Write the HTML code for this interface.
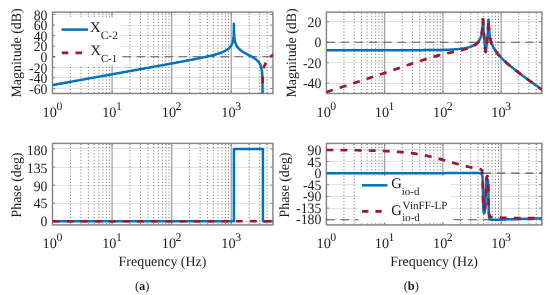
<!DOCTYPE html>
<html><head><meta charset="utf-8"><title>Bode plots</title>
<style>html,body{margin:0;padding:0;background:#fff}body{width:550px;height:295px;overflow:hidden}</style></head>
<body>
<svg width="550" height="295" viewBox="0 0 550 295" style="display:block;text-rendering:geometricPrecision;font-family:'Liberation Serif', serif" fill="#1a1a1a">
<defs>
<clipPath id="cTL"><rect x="52.5" y="12.15" width="220.40" height="81.35"/></clipPath>
<clipPath id="cTR"><rect x="326.4" y="12.15" width="215.50" height="81.35"/></clipPath>
<clipPath id="cBL"><rect x="52.5" y="143.4" width="220.40" height="81.50"/></clipPath>
<clipPath id="cBR"><rect x="326.4" y="143.4" width="215.50" height="81.50"/></clipPath>
</defs>
<rect width="550" height="295" fill="#fff"/>
<rect x="52.5" y="12.15" width="220.40" height="81.35" fill="#fff"/>
<line x1="52.5" x2="272.9" y1="14.50" y2="14.50" stroke="#e2e2e2" stroke-width="1"/>
<line x1="52.5" x2="272.9" y1="25.50" y2="25.50" stroke="#e2e2e2" stroke-width="1"/>
<line x1="52.5" x2="272.9" y1="35.50" y2="35.50" stroke="#e2e2e2" stroke-width="1"/>
<line x1="52.5" x2="272.9" y1="46.50" y2="46.50" stroke="#e2e2e2" stroke-width="1"/>
<line x1="52.5" x2="272.9" y1="56.50" y2="56.50" stroke="#e2e2e2" stroke-width="1"/>
<line x1="52.5" x2="272.9" y1="67.50" y2="67.50" stroke="#e2e2e2" stroke-width="1"/>
<line x1="52.5" x2="272.9" y1="77.50" y2="77.50" stroke="#e2e2e2" stroke-width="1"/>
<line x1="52.5" x2="272.9" y1="88.50" y2="88.50" stroke="#e2e2e2" stroke-width="1"/>
<line x1="70.44" x2="70.44" y1="12.55" y2="93.5" stroke="#707070" stroke-width="1" stroke-dasharray="1 2.19"/>
<line x1="80.93" x2="80.93" y1="12.55" y2="93.5" stroke="#707070" stroke-width="1" stroke-dasharray="1 2.19"/>
<line x1="88.37" x2="88.37" y1="12.55" y2="93.5" stroke="#707070" stroke-width="1" stroke-dasharray="1 2.19"/>
<line x1="94.15" x2="94.15" y1="12.55" y2="93.5" stroke="#707070" stroke-width="1" stroke-dasharray="1 2.19"/>
<line x1="98.87" x2="98.87" y1="12.55" y2="93.5" stroke="#707070" stroke-width="1" stroke-dasharray="1 2.19"/>
<line x1="102.85" x2="102.85" y1="12.55" y2="93.5" stroke="#707070" stroke-width="1" stroke-dasharray="1 2.19"/>
<line x1="106.31" x2="106.31" y1="12.55" y2="93.5" stroke="#707070" stroke-width="1" stroke-dasharray="1 2.19"/>
<line x1="109.36" x2="109.36" y1="12.55" y2="93.5" stroke="#707070" stroke-width="1" stroke-dasharray="1 2.19"/>
<line x1="130.02" x2="130.02" y1="12.55" y2="93.5" stroke="#707070" stroke-width="1" stroke-dasharray="1 2.19"/>
<line x1="140.51" x2="140.51" y1="12.55" y2="93.5" stroke="#707070" stroke-width="1" stroke-dasharray="1 2.19"/>
<line x1="147.96" x2="147.96" y1="12.55" y2="93.5" stroke="#707070" stroke-width="1" stroke-dasharray="1 2.19"/>
<line x1="153.73" x2="153.73" y1="12.55" y2="93.5" stroke="#707070" stroke-width="1" stroke-dasharray="1 2.19"/>
<line x1="158.45" x2="158.45" y1="12.55" y2="93.5" stroke="#707070" stroke-width="1" stroke-dasharray="1 2.19"/>
<line x1="162.44" x2="162.44" y1="12.55" y2="93.5" stroke="#707070" stroke-width="1" stroke-dasharray="1 2.19"/>
<line x1="165.89" x2="165.89" y1="12.55" y2="93.5" stroke="#707070" stroke-width="1" stroke-dasharray="1 2.19"/>
<line x1="168.94" x2="168.94" y1="12.55" y2="93.5" stroke="#707070" stroke-width="1" stroke-dasharray="1 2.19"/>
<line x1="189.60" x2="189.60" y1="12.55" y2="93.5" stroke="#707070" stroke-width="1" stroke-dasharray="1 2.19"/>
<line x1="200.10" x2="200.10" y1="12.55" y2="93.5" stroke="#707070" stroke-width="1" stroke-dasharray="1 2.19"/>
<line x1="207.54" x2="207.54" y1="12.55" y2="93.5" stroke="#707070" stroke-width="1" stroke-dasharray="1 2.19"/>
<line x1="213.32" x2="213.32" y1="12.55" y2="93.5" stroke="#707070" stroke-width="1" stroke-dasharray="1 2.19"/>
<line x1="218.03" x2="218.03" y1="12.55" y2="93.5" stroke="#707070" stroke-width="1" stroke-dasharray="1 2.19"/>
<line x1="222.02" x2="222.02" y1="12.55" y2="93.5" stroke="#707070" stroke-width="1" stroke-dasharray="1 2.19"/>
<line x1="225.48" x2="225.48" y1="12.55" y2="93.5" stroke="#707070" stroke-width="1" stroke-dasharray="1 2.19"/>
<line x1="228.53" x2="228.53" y1="12.55" y2="93.5" stroke="#707070" stroke-width="1" stroke-dasharray="1 2.19"/>
<line x1="249.19" x2="249.19" y1="12.55" y2="93.5" stroke="#707070" stroke-width="1" stroke-dasharray="1 2.19"/>
<line x1="259.68" x2="259.68" y1="12.55" y2="93.5" stroke="#707070" stroke-width="1" stroke-dasharray="1 2.19"/>
<line x1="267.13" x2="267.13" y1="12.55" y2="93.5" stroke="#707070" stroke-width="1" stroke-dasharray="1 2.19"/>
<line x1="112.08" x2="112.08" y1="12.15" y2="93.5" stroke="#a4a4a4" stroke-width="1.3"/>
<line x1="171.67" x2="171.67" y1="12.15" y2="93.5" stroke="#a4a4a4" stroke-width="1.3"/>
<line x1="231.25" x2="231.25" y1="12.15" y2="93.5" stroke="#a4a4a4" stroke-width="1.3"/>
<path d="M52.5 14.47h2.6M272.9 14.47h-2.6" stroke="#848484" stroke-width="1" fill="none"/>
<path d="M52.5 25.04h2.6M272.9 25.04h-2.6" stroke="#848484" stroke-width="1" fill="none"/>
<path d="M52.5 35.61h2.6M272.9 35.61h-2.6" stroke="#848484" stroke-width="1" fill="none"/>
<path d="M52.5 46.18h2.6M272.9 46.18h-2.6" stroke="#848484" stroke-width="1" fill="none"/>
<path d="M52.5 56.75h2.6M272.9 56.75h-2.6" stroke="#848484" stroke-width="1" fill="none"/>
<path d="M52.5 67.32h2.6M272.9 67.32h-2.6" stroke="#848484" stroke-width="1" fill="none"/>
<path d="M52.5 77.89h2.6M272.9 77.89h-2.6" stroke="#848484" stroke-width="1" fill="none"/>
<path d="M52.5 88.46h2.6M272.9 88.46h-2.6" stroke="#848484" stroke-width="1" fill="none"/>
<path d="M52.50 93.5v-2.6M52.50 12.15v2.6" stroke="#848484" stroke-width="0.9" fill="none"/>
<path d="M70.44 93.5v-1.4M70.44 12.15v1.4" stroke="#848484" stroke-width="0.9" fill="none"/>
<path d="M80.93 93.5v-1.4M80.93 12.15v1.4" stroke="#848484" stroke-width="0.9" fill="none"/>
<path d="M88.37 93.5v-1.4M88.37 12.15v1.4" stroke="#848484" stroke-width="0.9" fill="none"/>
<path d="M94.15 93.5v-1.4M94.15 12.15v1.4" stroke="#848484" stroke-width="0.9" fill="none"/>
<path d="M98.87 93.5v-1.4M98.87 12.15v1.4" stroke="#848484" stroke-width="0.9" fill="none"/>
<path d="M102.85 93.5v-1.4M102.85 12.15v1.4" stroke="#848484" stroke-width="0.9" fill="none"/>
<path d="M106.31 93.5v-1.4M106.31 12.15v1.4" stroke="#848484" stroke-width="0.9" fill="none"/>
<path d="M109.36 93.5v-1.4M109.36 12.15v1.4" stroke="#848484" stroke-width="0.9" fill="none"/>
<path d="M112.08 93.5v-2.6M112.08 12.15v2.6" stroke="#848484" stroke-width="0.9" fill="none"/>
<path d="M130.02 93.5v-1.4M130.02 12.15v1.4" stroke="#848484" stroke-width="0.9" fill="none"/>
<path d="M140.51 93.5v-1.4M140.51 12.15v1.4" stroke="#848484" stroke-width="0.9" fill="none"/>
<path d="M147.96 93.5v-1.4M147.96 12.15v1.4" stroke="#848484" stroke-width="0.9" fill="none"/>
<path d="M153.73 93.5v-1.4M153.73 12.15v1.4" stroke="#848484" stroke-width="0.9" fill="none"/>
<path d="M158.45 93.5v-1.4M158.45 12.15v1.4" stroke="#848484" stroke-width="0.9" fill="none"/>
<path d="M162.44 93.5v-1.4M162.44 12.15v1.4" stroke="#848484" stroke-width="0.9" fill="none"/>
<path d="M165.89 93.5v-1.4M165.89 12.15v1.4" stroke="#848484" stroke-width="0.9" fill="none"/>
<path d="M168.94 93.5v-1.4M168.94 12.15v1.4" stroke="#848484" stroke-width="0.9" fill="none"/>
<path d="M171.67 93.5v-2.6M171.67 12.15v2.6" stroke="#848484" stroke-width="0.9" fill="none"/>
<path d="M189.60 93.5v-1.4M189.60 12.15v1.4" stroke="#848484" stroke-width="0.9" fill="none"/>
<path d="M200.10 93.5v-1.4M200.10 12.15v1.4" stroke="#848484" stroke-width="0.9" fill="none"/>
<path d="M207.54 93.5v-1.4M207.54 12.15v1.4" stroke="#848484" stroke-width="0.9" fill="none"/>
<path d="M213.32 93.5v-1.4M213.32 12.15v1.4" stroke="#848484" stroke-width="0.9" fill="none"/>
<path d="M218.03 93.5v-1.4M218.03 12.15v1.4" stroke="#848484" stroke-width="0.9" fill="none"/>
<path d="M222.02 93.5v-1.4M222.02 12.15v1.4" stroke="#848484" stroke-width="0.9" fill="none"/>
<path d="M225.48 93.5v-1.4M225.48 12.15v1.4" stroke="#848484" stroke-width="0.9" fill="none"/>
<path d="M228.53 93.5v-1.4M228.53 12.15v1.4" stroke="#848484" stroke-width="0.9" fill="none"/>
<path d="M231.25 93.5v-2.6M231.25 12.15v2.6" stroke="#848484" stroke-width="0.9" fill="none"/>
<path d="M249.19 93.5v-1.4M249.19 12.15v1.4" stroke="#848484" stroke-width="0.9" fill="none"/>
<path d="M259.68 93.5v-1.4M259.68 12.15v1.4" stroke="#848484" stroke-width="0.9" fill="none"/>
<path d="M267.13 93.5v-1.4M267.13 12.15v1.4" stroke="#848484" stroke-width="0.9" fill="none"/>
<path d="M272.90 93.5v-1.4M272.90 12.15v1.4" stroke="#848484" stroke-width="0.9" fill="none"/>
<rect x="52.5" y="12.15" width="220.40" height="81.35" fill="none" stroke="#848484" stroke-width="1.45"/>
<line x1="52.5" x2="272.9" y1="56.75" y2="56.75" stroke="#5a5a5a" stroke-width="1.1" stroke-dasharray="8.6 5.4"/>
<polyline points="52.50,85.08 54.35,84.74 56.20,84.41 58.06,84.07 59.91,83.74 61.76,83.40 63.61,83.07 65.46,82.73 67.32,82.40 69.17,82.06 71.02,81.73 72.87,81.39 74.73,81.06 76.58,80.72 78.43,80.39 80.28,80.05 82.13,79.72 83.99,79.38 85.84,79.05 87.69,78.71 89.54,78.38 91.39,78.04 93.25,77.70 95.10,77.37 96.95,77.03 98.80,76.70 100.65,76.36 102.51,76.03 104.36,75.69 106.21,75.36 108.06,75.02 109.92,74.69 111.77,74.35 113.62,74.02 115.47,73.68 117.32,73.35 119.18,73.01 121.03,72.68 122.88,72.34 124.73,72.01 126.58,71.67 128.44,71.34 130.29,71.00 132.14,70.67 133.99,70.33 135.84,69.99 137.70,69.66 139.55,69.32 141.40,68.99 143.25,68.65 145.11,68.32 146.96,67.98 148.81,67.65 150.66,67.31 152.51,66.97 154.37,66.64 156.22,66.30 158.07,65.96 159.92,65.63 161.77,65.29 163.63,64.95 165.48,64.61 167.33,64.28 169.18,63.94 171.03,63.60 172.89,63.26 174.74,62.92 176.59,62.58 178.44,62.23 180.29,61.89 182.15,61.54 184.00,61.20 185.85,60.85 187.70,60.50 189.56,60.14 191.41,59.79 193.26,59.43 195.11,59.06 196.96,58.69 198.82,58.32 200.67,57.94 202.52,57.55 204.37,57.15 206.22,56.75 208.08,56.33 209.93,55.89 211.78,55.43 213.63,54.95 215.48,54.44 217.34,53.90 219.19,53.31 221.04,52.65 222.89,51.91 224.75,51.05 226.60,50.01 228.45,48.69 229.14,48.07 229.20,48.02 229.26,47.96 229.32,47.90 229.38,47.84 229.44,47.78 229.50,47.72 229.56,47.66 229.62,47.60 229.68,47.53 229.74,47.47 229.80,47.41 229.85,47.34 229.91,47.27 229.97,47.20 230.03,47.14 230.09,47.07 230.15,46.99 230.21,46.92 230.27,46.85 230.30,46.81 230.33,46.77 230.39,46.70 230.45,46.62 230.51,46.54 230.57,46.46 230.63,46.38 230.69,46.30 230.75,46.21 230.81,46.13 230.87,46.04 230.93,45.95 230.99,45.86 231.05,45.77 231.11,45.67 231.17,45.57 231.23,45.47 231.28,45.37 231.34,45.27 231.40,45.16 231.46,45.05 231.52,44.94 231.58,44.83 231.64,44.71 231.70,44.59 231.76,44.46 231.82,44.34 231.88,44.20 231.94,44.07 232.00,43.93 232.06,43.79 232.12,43.64 232.15,43.55 232.18,43.48 232.24,43.32 232.30,43.16 232.36,42.99 232.42,42.81 232.48,42.62 232.54,42.43 232.60,42.23 232.66,42.02 232.71,41.79 232.77,41.56 232.83,41.32 232.89,41.05 232.95,40.78 233.01,40.48 233.07,40.17 233.13,39.83 233.19,39.47 233.25,39.07 233.31,38.63 233.37,38.15 233.43,37.61 233.44,37.50 233.45,37.38 233.47,37.26 233.48,37.13 233.49,37.00 233.50,36.87 233.51,36.73 233.52,36.59 233.54,36.45 233.55,36.30 233.56,36.14 233.57,35.98 233.58,35.82 233.60,35.64 233.61,35.46 233.62,35.28 233.63,35.08 233.64,34.88 233.66,34.66 233.67,34.44 233.68,34.21 233.69,33.96 233.70,33.70 233.72,33.42 233.73,33.12 233.74,32.81 233.75,32.47 233.76,32.10 233.78,31.70 233.79,31.26 233.80,30.78 233.81,30.24 233.82,29.63 233.83,28.92 233.85,28.08 233.86,27.06 233.87,25.74 233.88,23.88 233.89,23.72 233.91,23.72 233.92,23.72 233.93,23.88 233.94,25.74 233.95,27.06 233.97,28.09 233.98,28.93 233.99,29.63 234.00,30.25 234.01,30.45 234.01,30.79 234.03,31.27 234.04,31.71 234.05,32.11 234.06,32.48 234.07,32.82 234.09,33.14 234.10,33.43 234.11,33.71 234.12,33.98 234.13,34.22 234.14,34.46 234.16,34.68 234.17,34.90 234.18,35.10 234.19,35.30 234.20,35.49 234.22,35.67 234.23,35.84 234.24,36.01 234.25,36.17 234.26,36.33 234.28,36.48 234.29,36.62 234.30,36.77 234.31,36.90 234.32,37.04 234.34,37.17 234.35,37.29 234.36,37.42 234.37,37.54 234.38,37.65 234.44,38.20 234.50,38.68 234.56,39.12 234.62,39.52 234.68,39.89 234.74,40.24 234.80,40.56 234.86,40.86 234.92,41.14 234.98,41.40 235.04,41.65 235.10,41.89 235.16,42.12 235.22,42.33 235.28,42.54 235.34,42.74 235.40,42.93 235.46,43.11 235.52,43.29 235.57,43.46 235.63,43.62 235.69,43.78 235.75,43.94 235.81,44.08 235.86,44.19 235.87,44.23 235.93,44.37 235.99,44.50 236.05,44.64 236.11,44.77 236.17,44.89 236.23,45.01 236.29,45.13 236.35,45.25 236.41,45.36 236.47,45.48 236.53,45.59 236.59,45.69 236.65,45.80 236.71,45.90 236.77,46.00 236.83,46.10 236.89,46.19 236.95,46.29 237.00,46.38 237.06,46.47 237.12,46.56 237.18,46.65 237.24,46.74 237.30,46.82 237.36,46.90 237.42,46.99 237.48,47.07 237.54,47.15 237.60,47.23 237.66,47.30 237.71,47.37 237.72,47.38 237.78,47.45 237.84,47.53 237.90,47.60 237.96,47.67 238.02,47.74 238.08,47.81 238.14,47.88 238.20,47.95 238.26,48.02 238.32,48.09 238.38,48.15 238.43,48.22 238.49,48.28 238.55,48.35 238.61,48.41 238.67,48.47 239.56,49.32 241.41,50.79 243.27,52.01 245.12,53.09 246.97,54.09 248.82,55.06 250.67,56.05 252.53,57.09 254.38,58.25 256.23,59.62 257.75,61.01 257.81,61.07 257.87,61.13 257.93,61.20 257.99,61.26 258.04,61.33 258.08,61.37 258.10,61.39 258.16,61.46 258.22,61.53 258.28,61.60 258.34,61.67 258.40,61.74 258.46,61.81 258.52,61.88 258.58,61.95 258.64,62.03 258.70,62.10 258.76,62.18 258.82,62.25 258.88,62.33 258.94,62.41 259.00,62.49 259.06,62.58 259.12,62.66 259.18,62.74 259.24,62.83 259.30,62.92 259.36,63.01 259.42,63.10 259.47,63.19 259.53,63.29 259.59,63.38 259.65,63.48 259.71,63.58 259.77,63.68 259.83,63.79 259.89,63.89 259.94,63.97 259.95,64.00 260.01,64.11 260.07,64.23 260.13,64.35 260.19,64.47 260.25,64.59 260.31,64.71 260.37,64.84 260.43,64.97 260.49,65.11 260.55,65.25 260.61,65.40 260.67,65.54 260.73,65.70 260.79,65.86 260.85,66.02 260.90,66.19 260.96,66.37 261.02,66.55 261.08,66.74 261.14,66.94 261.20,67.15 261.26,67.36 261.32,67.59 261.38,67.83 261.44,68.08 261.50,68.34 261.56,68.62 261.62,68.92 261.68,69.24 261.74,69.59 261.79,69.88 261.80,69.96 261.86,70.36 261.92,70.80 261.98,71.28 262.04,71.83 262.05,71.94 262.06,72.06 262.07,72.19 262.08,72.31 262.10,72.44 262.11,72.58 262.12,72.71 262.13,72.86 262.14,73.00 262.16,73.15 262.17,73.31 262.18,73.47 262.19,73.64 262.20,73.81 262.22,73.99 262.23,74.18 262.24,74.38 262.25,74.58 262.26,74.80 262.28,75.02 262.29,75.26 262.30,75.50 262.31,75.77 262.32,76.05 262.33,76.34 262.35,76.66 262.36,77.00 262.37,77.37 262.38,77.77 262.39,78.21 262.41,78.69 262.42,79.23 262.43,79.85 262.44,80.55 262.45,81.39 262.47,82.42 262.48,83.74 262.49,85.60 262.50,88.78 262.51,162.45" fill="none" stroke="#0072BD" stroke-width="2.5" stroke-linejoin="round" clip-path="url(#cTL)"/>
<path d="M262.7 83 L262.7 76 C262.7 72 262.9 70 263.3 68.6 L265.6 63.3 C267.2 60 269 57.6 271.4 56 L274 54.6" fill="none" stroke="#A2142F" stroke-width="2.7" stroke-dasharray="6.6 8.3 6 7.3 6 6" clip-path="url(#cTL)"/>
<text x="47.5" y="19.67" text-anchor="end" font-size="14.3" textLength="13.80" lengthAdjust="spacingAndGlyphs">80</text>
<text x="47.5" y="30.24" text-anchor="end" font-size="14.3" textLength="13.80" lengthAdjust="spacingAndGlyphs">60</text>
<text x="47.5" y="40.81" text-anchor="end" font-size="14.3" textLength="13.80" lengthAdjust="spacingAndGlyphs">40</text>
<text x="47.5" y="51.38" text-anchor="end" font-size="14.3" textLength="13.80" lengthAdjust="spacingAndGlyphs">20</text>
<text x="47.5" y="61.95" text-anchor="end" font-size="14.3" textLength="6.90" lengthAdjust="spacingAndGlyphs">0</text>
<text x="47.5" y="72.52" text-anchor="end" font-size="14.3" textLength="18.39" lengthAdjust="spacingAndGlyphs">-20</text>
<text x="47.5" y="83.09" text-anchor="end" font-size="14.3" textLength="18.39" lengthAdjust="spacingAndGlyphs">-40</text>
<text x="47.5" y="93.66" text-anchor="end" font-size="14.3" textLength="18.39" lengthAdjust="spacingAndGlyphs">-60</text>
<text x="42.60" y="117.00" font-size="14.3">10<tspan dx="-0.5" dy="-7.4" font-size="11.8">0</tspan></text>
<text x="102.18" y="117.00" font-size="14.3">10<tspan dx="-0.5" dy="-7.4" font-size="11.8">1</tspan></text>
<text x="161.77" y="117.00" font-size="14.3">10<tspan dx="-0.5" dy="-7.4" font-size="11.8">2</tspan></text>
<text x="221.35" y="117.00" font-size="14.3">10<tspan dx="-0.5" dy="-7.4" font-size="11.8">3</tspan></text>
<rect x="52.5" y="143.4" width="220.40" height="81.50" fill="#fff"/>
<line x1="52.5" x2="272.9" y1="148.50" y2="148.50" stroke="#e2e2e2" stroke-width="1"/>
<line x1="52.5" x2="272.9" y1="167.50" y2="167.50" stroke="#e2e2e2" stroke-width="1"/>
<line x1="52.5" x2="272.9" y1="185.50" y2="185.50" stroke="#e2e2e2" stroke-width="1"/>
<line x1="52.5" x2="272.9" y1="203.50" y2="203.50" stroke="#e2e2e2" stroke-width="1"/>
<line x1="52.5" x2="272.9" y1="221.50" y2="221.50" stroke="#e2e2e2" stroke-width="1"/>
<line x1="70.44" x2="70.44" y1="143.80" y2="224.9" stroke="#707070" stroke-width="1" stroke-dasharray="1 2.19"/>
<line x1="80.93" x2="80.93" y1="143.80" y2="224.9" stroke="#707070" stroke-width="1" stroke-dasharray="1 2.19"/>
<line x1="88.37" x2="88.37" y1="143.80" y2="224.9" stroke="#707070" stroke-width="1" stroke-dasharray="1 2.19"/>
<line x1="94.15" x2="94.15" y1="143.80" y2="224.9" stroke="#707070" stroke-width="1" stroke-dasharray="1 2.19"/>
<line x1="98.87" x2="98.87" y1="143.80" y2="224.9" stroke="#707070" stroke-width="1" stroke-dasharray="1 2.19"/>
<line x1="102.85" x2="102.85" y1="143.80" y2="224.9" stroke="#707070" stroke-width="1" stroke-dasharray="1 2.19"/>
<line x1="106.31" x2="106.31" y1="143.80" y2="224.9" stroke="#707070" stroke-width="1" stroke-dasharray="1 2.19"/>
<line x1="109.36" x2="109.36" y1="143.80" y2="224.9" stroke="#707070" stroke-width="1" stroke-dasharray="1 2.19"/>
<line x1="130.02" x2="130.02" y1="143.80" y2="224.9" stroke="#707070" stroke-width="1" stroke-dasharray="1 2.19"/>
<line x1="140.51" x2="140.51" y1="143.80" y2="224.9" stroke="#707070" stroke-width="1" stroke-dasharray="1 2.19"/>
<line x1="147.96" x2="147.96" y1="143.80" y2="224.9" stroke="#707070" stroke-width="1" stroke-dasharray="1 2.19"/>
<line x1="153.73" x2="153.73" y1="143.80" y2="224.9" stroke="#707070" stroke-width="1" stroke-dasharray="1 2.19"/>
<line x1="158.45" x2="158.45" y1="143.80" y2="224.9" stroke="#707070" stroke-width="1" stroke-dasharray="1 2.19"/>
<line x1="162.44" x2="162.44" y1="143.80" y2="224.9" stroke="#707070" stroke-width="1" stroke-dasharray="1 2.19"/>
<line x1="165.89" x2="165.89" y1="143.80" y2="224.9" stroke="#707070" stroke-width="1" stroke-dasharray="1 2.19"/>
<line x1="168.94" x2="168.94" y1="143.80" y2="224.9" stroke="#707070" stroke-width="1" stroke-dasharray="1 2.19"/>
<line x1="189.60" x2="189.60" y1="143.80" y2="224.9" stroke="#707070" stroke-width="1" stroke-dasharray="1 2.19"/>
<line x1="200.10" x2="200.10" y1="143.80" y2="224.9" stroke="#707070" stroke-width="1" stroke-dasharray="1 2.19"/>
<line x1="207.54" x2="207.54" y1="143.80" y2="224.9" stroke="#707070" stroke-width="1" stroke-dasharray="1 2.19"/>
<line x1="213.32" x2="213.32" y1="143.80" y2="224.9" stroke="#707070" stroke-width="1" stroke-dasharray="1 2.19"/>
<line x1="218.03" x2="218.03" y1="143.80" y2="224.9" stroke="#707070" stroke-width="1" stroke-dasharray="1 2.19"/>
<line x1="222.02" x2="222.02" y1="143.80" y2="224.9" stroke="#707070" stroke-width="1" stroke-dasharray="1 2.19"/>
<line x1="225.48" x2="225.48" y1="143.80" y2="224.9" stroke="#707070" stroke-width="1" stroke-dasharray="1 2.19"/>
<line x1="228.53" x2="228.53" y1="143.80" y2="224.9" stroke="#707070" stroke-width="1" stroke-dasharray="1 2.19"/>
<line x1="249.19" x2="249.19" y1="143.80" y2="224.9" stroke="#707070" stroke-width="1" stroke-dasharray="1 2.19"/>
<line x1="259.68" x2="259.68" y1="143.80" y2="224.9" stroke="#707070" stroke-width="1" stroke-dasharray="1 2.19"/>
<line x1="267.13" x2="267.13" y1="143.80" y2="224.9" stroke="#707070" stroke-width="1" stroke-dasharray="1 2.19"/>
<line x1="112.08" x2="112.08" y1="143.4" y2="224.9" stroke="#a4a4a4" stroke-width="1.3"/>
<line x1="171.67" x2="171.67" y1="143.4" y2="224.9" stroke="#a4a4a4" stroke-width="1.3"/>
<line x1="231.25" x2="231.25" y1="143.4" y2="224.9" stroke="#a4a4a4" stroke-width="1.3"/>
<path d="M52.5 148.93h2.6M272.9 148.93h-2.6" stroke="#848484" stroke-width="1" fill="none"/>
<path d="M52.5 167.01h2.6M272.9 167.01h-2.6" stroke="#848484" stroke-width="1" fill="none"/>
<path d="M52.5 185.09h2.6M272.9 185.09h-2.6" stroke="#848484" stroke-width="1" fill="none"/>
<path d="M52.5 203.17h2.6M272.9 203.17h-2.6" stroke="#848484" stroke-width="1" fill="none"/>
<path d="M52.5 221.25h2.6M272.9 221.25h-2.6" stroke="#848484" stroke-width="1" fill="none"/>
<path d="M52.50 224.9v-2.6M52.50 143.4v2.6" stroke="#848484" stroke-width="0.9" fill="none"/>
<path d="M70.44 224.9v-1.4M70.44 143.4v1.4" stroke="#848484" stroke-width="0.9" fill="none"/>
<path d="M80.93 224.9v-1.4M80.93 143.4v1.4" stroke="#848484" stroke-width="0.9" fill="none"/>
<path d="M88.37 224.9v-1.4M88.37 143.4v1.4" stroke="#848484" stroke-width="0.9" fill="none"/>
<path d="M94.15 224.9v-1.4M94.15 143.4v1.4" stroke="#848484" stroke-width="0.9" fill="none"/>
<path d="M98.87 224.9v-1.4M98.87 143.4v1.4" stroke="#848484" stroke-width="0.9" fill="none"/>
<path d="M102.85 224.9v-1.4M102.85 143.4v1.4" stroke="#848484" stroke-width="0.9" fill="none"/>
<path d="M106.31 224.9v-1.4M106.31 143.4v1.4" stroke="#848484" stroke-width="0.9" fill="none"/>
<path d="M109.36 224.9v-1.4M109.36 143.4v1.4" stroke="#848484" stroke-width="0.9" fill="none"/>
<path d="M112.08 224.9v-2.6M112.08 143.4v2.6" stroke="#848484" stroke-width="0.9" fill="none"/>
<path d="M130.02 224.9v-1.4M130.02 143.4v1.4" stroke="#848484" stroke-width="0.9" fill="none"/>
<path d="M140.51 224.9v-1.4M140.51 143.4v1.4" stroke="#848484" stroke-width="0.9" fill="none"/>
<path d="M147.96 224.9v-1.4M147.96 143.4v1.4" stroke="#848484" stroke-width="0.9" fill="none"/>
<path d="M153.73 224.9v-1.4M153.73 143.4v1.4" stroke="#848484" stroke-width="0.9" fill="none"/>
<path d="M158.45 224.9v-1.4M158.45 143.4v1.4" stroke="#848484" stroke-width="0.9" fill="none"/>
<path d="M162.44 224.9v-1.4M162.44 143.4v1.4" stroke="#848484" stroke-width="0.9" fill="none"/>
<path d="M165.89 224.9v-1.4M165.89 143.4v1.4" stroke="#848484" stroke-width="0.9" fill="none"/>
<path d="M168.94 224.9v-1.4M168.94 143.4v1.4" stroke="#848484" stroke-width="0.9" fill="none"/>
<path d="M171.67 224.9v-2.6M171.67 143.4v2.6" stroke="#848484" stroke-width="0.9" fill="none"/>
<path d="M189.60 224.9v-1.4M189.60 143.4v1.4" stroke="#848484" stroke-width="0.9" fill="none"/>
<path d="M200.10 224.9v-1.4M200.10 143.4v1.4" stroke="#848484" stroke-width="0.9" fill="none"/>
<path d="M207.54 224.9v-1.4M207.54 143.4v1.4" stroke="#848484" stroke-width="0.9" fill="none"/>
<path d="M213.32 224.9v-1.4M213.32 143.4v1.4" stroke="#848484" stroke-width="0.9" fill="none"/>
<path d="M218.03 224.9v-1.4M218.03 143.4v1.4" stroke="#848484" stroke-width="0.9" fill="none"/>
<path d="M222.02 224.9v-1.4M222.02 143.4v1.4" stroke="#848484" stroke-width="0.9" fill="none"/>
<path d="M225.48 224.9v-1.4M225.48 143.4v1.4" stroke="#848484" stroke-width="0.9" fill="none"/>
<path d="M228.53 224.9v-1.4M228.53 143.4v1.4" stroke="#848484" stroke-width="0.9" fill="none"/>
<path d="M231.25 224.9v-2.6M231.25 143.4v2.6" stroke="#848484" stroke-width="0.9" fill="none"/>
<path d="M249.19 224.9v-1.4M249.19 143.4v1.4" stroke="#848484" stroke-width="0.9" fill="none"/>
<path d="M259.68 224.9v-1.4M259.68 143.4v1.4" stroke="#848484" stroke-width="0.9" fill="none"/>
<path d="M267.13 224.9v-1.4M267.13 143.4v1.4" stroke="#848484" stroke-width="0.9" fill="none"/>
<path d="M272.90 224.9v-1.4M272.90 143.4v1.4" stroke="#848484" stroke-width="0.9" fill="none"/>
<rect x="52.5" y="143.4" width="220.40" height="81.50" fill="none" stroke="#848484" stroke-width="1.45"/>
<polyline points="52.50,221.25 54.35,221.25 56.20,221.25 58.06,221.25 59.91,221.25 61.76,221.25 63.61,221.25 65.46,221.25 67.32,221.25 69.17,221.25 71.02,221.25 72.87,221.25 74.73,221.25 76.58,221.25 78.43,221.25 80.28,221.25 82.13,221.25 83.99,221.25 85.84,221.25 87.69,221.25 89.54,221.25 91.39,221.25 93.25,221.25 95.10,221.25 96.95,221.25 98.80,221.25 100.65,221.25 102.51,221.25 104.36,221.25 106.21,221.25 108.06,221.25 109.92,221.25 111.77,221.25 113.62,221.25 115.47,221.25 117.32,221.25 119.18,221.25 121.03,221.25 122.88,221.25 124.73,221.25 126.58,221.25 128.44,221.25 130.29,221.25 132.14,221.25 133.99,221.25 135.84,221.25 137.70,221.25 139.55,221.25 141.40,221.25 143.25,221.25 145.11,221.25 146.96,221.25 148.81,221.25 150.66,221.25 152.51,221.25 154.37,221.25 156.22,221.25 158.07,221.25 159.92,221.25 161.77,221.25 163.63,221.25 165.48,221.25 167.33,221.25 169.18,221.25 171.03,221.25 172.89,221.25 174.74,221.25 176.59,221.25 178.44,221.25 180.29,221.25 182.15,221.25 184.00,221.25 185.85,221.25 187.70,221.25 189.56,221.25 191.41,221.25 193.26,221.25 195.11,221.25 196.96,221.25 198.82,221.25 200.67,221.25 202.52,221.25 204.37,221.25 206.22,221.25 208.08,221.25 209.93,221.25 211.78,221.25 213.63,221.25 215.48,221.25 217.34,221.25 219.19,221.25 221.04,221.25 222.89,221.25 224.75,221.25 226.60,221.25 228.45,221.25 229.14,221.25 229.20,221.25 229.26,221.25 229.32,221.25 229.38,221.25 229.44,221.25 229.50,221.25 229.56,221.25 229.62,221.25 229.68,221.25 229.74,221.25 229.80,221.25 229.85,221.25 229.91,221.25 229.97,221.25 230.03,221.25 230.09,221.25 230.15,221.25 230.21,221.25 230.27,221.25 230.30,221.25 230.33,221.25 230.39,221.25 230.45,221.25 230.51,221.25 230.57,221.25 230.63,221.25 230.69,221.25 230.75,221.25 230.81,221.25 230.87,221.25 230.93,221.25 230.99,221.25 231.05,221.25 231.11,221.25 231.17,221.25 231.23,221.25 231.28,221.25 231.34,221.25 231.40,221.25 231.46,221.25 231.52,221.25 231.58,221.25 231.64,221.25 231.70,221.25 231.76,221.25 231.82,221.25 231.88,221.25 231.94,221.25 232.00,221.25 232.06,221.25 232.12,221.25 232.15,221.25 232.18,221.25 232.24,221.25 232.30,221.25 232.36,221.25 232.42,221.25 232.48,221.25 232.54,221.25 232.60,221.25 232.66,221.25 232.71,221.25 232.77,221.25 232.83,221.25 232.89,221.25 232.95,221.25 233.01,221.25 233.07,221.25 233.13,221.25 233.19,221.25 233.25,221.25 233.31,221.25 233.37,221.25 233.43,221.25 233.44,221.25 233.45,221.25 233.47,221.25 233.48,221.25 233.49,221.25 233.50,221.25 233.51,221.25 233.52,221.25 233.54,221.25 233.55,221.25 233.56,221.25 233.57,221.25 233.58,221.25 233.60,221.25 233.61,221.25 233.62,221.25 233.63,221.25 233.64,221.25 233.66,221.25 233.67,221.25 233.68,221.25 233.69,221.25 233.70,221.25 233.72,221.25 233.73,221.25 233.74,221.25 233.75,221.25 233.76,221.25 233.78,221.25 233.79,221.25 233.80,221.25 233.81,221.25 233.82,221.25 233.83,221.25 233.85,221.25 233.86,221.25 233.87,221.25 233.88,221.25 233.89,221.25 233.91,221.25 233.92,148.93 233.93,148.93 233.94,148.93 233.95,148.93 233.97,148.93 233.98,148.93 233.99,148.93 234.00,148.93 234.01,148.93 234.01,148.93 234.03,148.93 234.04,148.93 234.05,148.93 234.06,148.93 234.07,148.93 234.09,148.93 234.10,148.93 234.11,148.93 234.12,148.93 234.13,148.93 234.14,148.93 234.16,148.93 234.17,148.93 234.18,148.93 234.19,148.93 234.20,148.93 234.22,148.93 234.23,148.93 234.24,148.93 234.25,148.93 234.26,148.93 234.28,148.93 234.29,148.93 234.30,148.93 234.31,148.93 234.32,148.93 234.34,148.93 234.35,148.93 234.36,148.93 234.37,148.93 234.38,148.93 234.44,148.93 234.50,148.93 234.56,148.93 234.62,148.93 234.68,148.93 234.74,148.93 234.80,148.93 234.86,148.93 234.92,148.93 234.98,148.93 235.04,148.93 235.10,148.93 235.16,148.93 235.22,148.93 235.28,148.93 235.34,148.93 235.40,148.93 235.46,148.93 235.52,148.93 235.57,148.93 235.63,148.93 235.69,148.93 235.75,148.93 235.81,148.93 235.86,148.93 235.87,148.93 235.93,148.93 235.99,148.93 236.05,148.93 236.11,148.93 236.17,148.93 236.23,148.93 236.29,148.93 236.35,148.93 236.41,148.93 236.47,148.93 236.53,148.93 236.59,148.93 236.65,148.93 236.71,148.93 236.77,148.93 236.83,148.93 236.89,148.93 236.95,148.93 237.00,148.93 237.06,148.93 237.12,148.93 237.18,148.93 237.24,148.93 237.30,148.93 237.36,148.93 237.42,148.93 237.48,148.93 237.54,148.93 237.60,148.93 237.66,148.93 237.71,148.93 237.72,148.93 237.78,148.93 237.84,148.93 237.90,148.93 237.96,148.93 238.02,148.93 238.08,148.93 238.14,148.93 238.20,148.93 238.26,148.93 238.32,148.93 238.38,148.93 238.43,148.93 238.49,148.93 238.55,148.93 238.61,148.93 238.67,148.93 239.56,148.93 241.41,148.93 243.27,148.93 245.12,148.93 246.97,148.93 248.82,148.93 250.67,148.93 252.53,148.93 254.38,148.93 256.23,148.93 257.75,148.93 257.81,148.93 257.87,148.93 257.93,148.93 257.99,148.93 258.04,148.93 258.08,148.93 258.10,148.93 258.16,148.93 258.22,148.93 258.28,148.93 258.34,148.93 258.40,148.93 258.46,148.93 258.52,148.93 258.58,148.93 258.64,148.93 258.70,148.93 258.76,148.93 258.82,148.93 258.88,148.93 258.94,148.93 259.00,148.93 259.06,148.93 259.12,148.93 259.18,148.93 259.24,148.93 259.30,148.93 259.36,148.93 259.42,148.93 259.47,148.93 259.53,148.93 259.59,148.93 259.65,148.93 259.71,148.93 259.77,148.93 259.83,148.93 259.89,148.93 259.94,148.93 259.95,148.93 260.01,148.93 260.07,148.93 260.13,148.93 260.19,148.93 260.25,148.93 260.31,148.93 260.37,148.93 260.43,148.93 260.49,148.93 260.55,148.93 260.61,148.93 260.67,148.93 260.73,148.93 260.79,148.93 260.85,148.93 260.90,148.93 260.96,148.93 261.02,148.93 261.08,148.93 261.14,148.93 261.20,148.93 261.26,148.93 261.32,148.93 261.38,148.93 261.44,148.93 261.50,148.93 261.56,148.93 261.62,148.93 261.68,148.93 261.74,148.93 261.79,148.93 261.80,148.93 261.86,148.93 261.92,148.93 261.98,148.93 262.04,148.93 262.05,148.93 262.06,148.93 262.07,148.93 262.08,148.93 262.10,148.93 262.11,148.93 262.12,148.93 262.13,148.93 262.14,148.93 262.16,148.93 262.17,148.93 262.18,148.93 262.19,148.93 262.20,148.93 262.22,148.93 262.23,148.93 262.24,148.93 262.25,148.93 262.26,148.93 262.28,148.93 262.29,148.93 262.30,148.93 262.31,148.93 262.32,148.93 262.33,148.93 262.35,148.93 262.36,148.93 262.37,148.93 262.38,148.93 262.39,148.93 262.41,148.93 262.42,148.93 262.43,148.93 262.44,148.93 262.45,148.93 262.47,148.93 262.48,148.93 262.49,148.93 262.50,148.93 262.51,148.93 262.53,148.93 262.54,148.93 262.55,148.93 262.56,148.93 262.57,148.93 262.59,148.93 262.60,148.93 262.61,148.93 262.62,148.93 262.63,148.93 262.64,148.93 262.66,148.93 262.67,148.93 262.68,148.93 262.69,148.93 262.70,148.93 262.72,148.93 262.73,148.93 262.74,148.93 262.75,148.93 262.76,148.93 262.78,148.93 262.79,148.93 262.80,148.93 262.81,148.93 262.82,148.93 262.84,148.93 262.85,148.93 262.86,148.93 262.87,148.93 262.88,148.93 262.89,148.93 262.91,148.93 262.92,148.93 262.93,221.25 262.94,221.25 262.95,221.25 262.97,221.25 262.98,221.25 262.99,221.25 263.05,221.25 263.11,221.25 263.17,221.25 263.23,221.25 263.29,221.25 263.35,221.25 263.41,221.25 263.47,221.25 263.53,221.25 263.59,221.25 263.64,221.25 263.65,221.25 263.71,221.25 263.76,221.25 263.82,221.25 263.88,221.25 263.94,221.25 264.00,221.25 264.06,221.25 264.12,221.25 264.18,221.25 264.24,221.25 264.30,221.25 264.36,221.25 264.42,221.25 264.48,221.25 264.54,221.25 264.60,221.25 264.66,221.25 264.72,221.25 264.78,221.25 264.84,221.25 264.90,221.25 264.96,221.25 265.02,221.25 265.08,221.25 265.14,221.25 265.19,221.25 265.25,221.25 265.31,221.25 265.37,221.25 265.43,221.25 265.49,221.25 265.49,221.25 265.55,221.25 265.61,221.25 265.67,221.25 265.73,221.25 265.79,221.25 265.85,221.25 265.91,221.25 265.97,221.25 266.03,221.25 266.09,221.25 266.15,221.25 266.21,221.25 266.27,221.25 266.33,221.25 266.39,221.25 266.45,221.25 266.51,221.25 266.57,221.25 266.62,221.25 266.68,221.25 266.74,221.25 266.80,221.25 266.86,221.25 266.92,221.25 266.98,221.25 267.04,221.25 267.10,221.25 267.16,221.25 267.22,221.25 267.28,221.25 267.34,221.25 269.20,221.25 271.05,221.25 272.90,221.25" fill="none" stroke="#0072BD" stroke-width="2.5" stroke-linejoin="round" clip-path="url(#cBL)"/>
<polyline points="52.50,221.25 54.35,221.25 56.20,221.25 58.06,221.25 59.91,221.25 61.76,221.25 63.61,221.25 65.46,221.25 67.32,221.25 69.17,221.25 71.02,221.25 72.87,221.25 74.73,221.25 76.58,221.25 78.43,221.25 80.28,221.25 82.13,221.25 83.99,221.25 85.84,221.25 87.69,221.25 89.54,221.25 91.39,221.25 93.25,221.25 95.10,221.25 96.95,221.25 98.80,221.25 100.65,221.25 102.51,221.25 104.36,221.25 106.21,221.25 108.06,221.25 109.92,221.25 111.77,221.25 113.62,221.25 115.47,221.25 117.32,221.25 119.18,221.25 121.03,221.25 122.88,221.25 124.73,221.25 126.58,221.25 128.44,221.25 130.29,221.25 132.14,221.25 133.99,221.25 135.84,221.25 137.70,221.25 139.55,221.25 141.40,221.25 143.25,221.25 145.11,221.25 146.96,221.25 148.81,221.25 150.66,221.25 152.51,221.25 154.37,221.25 156.22,221.25 158.07,221.25 159.92,221.25 161.77,221.25 163.63,221.25 165.48,221.25 167.33,221.25 169.18,221.25 171.03,221.25 172.89,221.25 174.74,221.25 176.59,221.25 178.44,221.25 180.29,221.25 182.15,221.25 184.00,221.25 185.85,221.25 187.70,221.25 189.56,221.25 191.41,221.25 193.26,221.25 195.11,221.25 196.96,221.25 198.82,221.25 200.67,221.25 202.52,221.25 204.37,221.25 206.22,221.25 208.08,221.25 209.93,221.25 211.78,221.25 213.63,221.25 215.48,221.25 217.34,221.25 219.19,221.25 221.04,221.25 222.89,221.25 224.75,221.25 226.60,221.25 228.45,221.25 229.14,221.25 229.20,221.25 229.26,221.25 229.32,221.25 229.38,221.25 229.44,221.25 229.50,221.25 229.56,221.25 229.62,221.25 229.68,221.25 229.74,221.25 229.80,221.25 229.85,221.25 229.91,221.25 229.97,221.25 230.03,221.25 230.09,221.25 230.15,221.25 230.21,221.25 230.27,221.25 230.30,221.25 230.33,221.25 230.39,221.25 230.45,221.25 230.51,221.25 230.57,221.25 230.63,221.25 230.69,221.25 230.75,221.25 230.81,221.25 230.87,221.25 230.93,221.25 230.99,221.25 231.05,221.25 231.11,221.25 231.17,221.25 231.23,221.25 231.28,221.25 231.34,221.25 231.40,221.25 231.46,221.25 231.52,221.25 231.58,221.25 231.64,221.25 231.70,221.25 231.76,221.25 231.82,221.25 231.88,221.25 231.94,221.25 232.00,221.25 232.06,221.25 232.12,221.25 232.15,221.25 232.18,221.25 232.24,221.25 232.30,221.25 232.36,221.25 232.42,221.25 232.48,221.25 232.54,221.25 232.60,221.25 232.66,221.25 232.71,221.25 232.77,221.25 232.83,221.25 232.89,221.25 232.95,221.25 233.01,221.25 233.07,221.25 233.13,221.25 233.19,221.25 233.25,221.25 233.31,221.25 233.37,221.25 233.43,221.25 233.44,221.25 233.45,221.25 233.47,221.25 233.48,221.25 233.49,221.25 233.50,221.25 233.51,221.25 233.52,221.25 233.54,221.25 233.55,221.25 233.56,221.25 233.57,221.25 233.58,221.25 233.60,221.25 233.61,221.25 233.62,221.25 233.63,221.25 233.64,221.25 233.66,221.25 233.67,221.25 233.68,221.25 233.69,221.25 233.70,221.25 233.72,221.25 233.73,221.25 233.74,221.25 233.75,221.25 233.76,221.25 233.78,221.25 233.79,221.25 233.80,221.25 233.81,221.25 233.82,221.25 233.83,221.25 233.85,221.25 233.86,221.25 233.87,221.25 233.88,221.25 233.89,221.25 233.91,221.25 233.92,221.25 233.93,221.25 233.94,221.25 233.95,221.25 233.97,221.25 233.98,221.25 233.99,221.25 234.00,221.25 234.01,221.25 234.01,221.25 234.03,221.25 234.04,221.25 234.05,221.25 234.06,221.25 234.07,221.25 234.09,221.25 234.10,221.25 234.11,221.25 234.12,221.25 234.13,221.25 234.14,221.25 234.16,221.25 234.17,221.25 234.18,221.25 234.19,221.25 234.20,221.25 234.22,221.25 234.23,221.25 234.24,221.25 234.25,221.25 234.26,221.25 234.28,221.25 234.29,221.25 234.30,221.25 234.31,221.25 234.32,221.25 234.34,221.25 234.35,221.25 234.36,221.25 234.37,221.25 234.38,221.25 234.44,221.25 234.50,221.25 234.56,221.25 234.62,221.25 234.68,221.25 234.74,221.25 234.80,221.25 234.86,221.25 234.92,221.25 234.98,221.25 235.04,221.25 235.10,221.25 235.16,221.25 235.22,221.25 235.28,221.25 235.34,221.25 235.40,221.25 235.46,221.25 235.52,221.25 235.57,221.25 235.63,221.25 235.69,221.25 235.75,221.25 235.81,221.25 235.86,221.25 235.87,221.25 235.93,221.25 235.99,221.25 236.05,221.25 236.11,221.25 236.17,221.25 236.23,221.25 236.29,221.25 236.35,221.25 236.41,221.25 236.47,221.25 236.53,221.25 236.59,221.25 236.65,221.25 236.71,221.25 236.77,221.25 236.83,221.25 236.89,221.25 236.95,221.25 237.00,221.25 237.06,221.25 237.12,221.25 237.18,221.25 237.24,221.25 237.30,221.25 237.36,221.25 237.42,221.25 237.48,221.25 237.54,221.25 237.60,221.25 237.66,221.25 237.71,221.25 237.72,221.25 237.78,221.25 237.84,221.25 237.90,221.25 237.96,221.25 238.02,221.25 238.08,221.25 238.14,221.25 238.20,221.25 238.26,221.25 238.32,221.25 238.38,221.25 238.43,221.25 238.49,221.25 238.55,221.25 238.61,221.25 238.67,221.25 239.56,221.25 241.41,221.25 243.27,221.25 245.12,221.25 246.97,221.25 248.82,221.25 250.67,221.25 252.53,221.25 254.38,221.25 256.23,221.25 257.75,221.25 257.81,221.25 257.87,221.25 257.93,221.25 257.99,221.25 258.04,221.25 258.08,221.25 258.10,221.25 258.16,221.25 258.22,221.25 258.28,221.25 258.34,221.25 258.40,221.25 258.46,221.25 258.52,221.25 258.58,221.25 258.64,221.25 258.70,221.25 258.76,221.25 258.82,221.25 258.88,221.25 258.94,221.25 259.00,221.25 259.06,221.25 259.12,221.25 259.18,221.25 259.24,221.25 259.30,221.25 259.36,221.25 259.42,221.25 259.47,221.25 259.53,221.25 259.59,221.25 259.65,221.25 259.71,221.25 259.77,221.25 259.83,221.25 259.89,221.25 259.94,221.25 259.95,221.25 260.01,221.25 260.07,221.25 260.13,221.25 260.19,221.25 260.25,221.25 260.31,221.25 260.37,221.25 260.43,221.25 260.49,221.25 260.55,221.25 260.61,221.25 260.67,221.25 260.73,221.25 260.79,221.25 260.85,221.25 260.90,221.25 260.96,221.25 261.02,221.25 261.08,221.25 261.14,221.25 261.20,221.25 261.26,221.25 261.32,221.25 261.38,221.25 261.44,221.25 261.50,221.25 261.56,221.25 261.62,221.25 261.68,221.25 261.74,221.25 261.79,221.25 261.80,221.25 261.86,221.25 261.92,221.25 261.98,221.25 262.04,221.25 262.05,221.25 262.06,221.25 262.07,221.25 262.08,221.25 262.10,221.25 262.11,221.25 262.12,221.25 262.13,221.25 262.14,221.25 262.16,221.25 262.17,221.25 262.18,221.25 262.19,221.25 262.20,221.25 262.22,221.25 262.23,221.25 262.24,221.25 262.25,221.25 262.26,221.25 262.28,221.25 262.29,221.25 262.30,221.25 262.31,221.25 262.32,221.25 262.33,221.25 262.35,221.25 262.36,221.25 262.37,221.25 262.38,221.25 262.39,221.25 262.41,221.25 262.42,221.25 262.43,221.25 262.44,221.25 262.45,221.25 262.47,221.25 262.48,221.25 262.49,221.25 262.50,221.25 262.51,221.25 262.53,221.25 262.54,221.25 262.55,221.25 262.56,221.25 262.57,221.25 262.59,221.25 262.60,221.25 262.61,221.25 262.62,221.25 262.63,221.25 262.64,221.25 262.66,221.25 262.67,221.25 262.68,221.25 262.69,221.25 262.70,221.25 262.72,221.25 262.73,221.25 262.74,221.25 262.75,221.25 262.76,221.25 262.78,221.25 262.79,221.25 262.80,221.25 262.81,221.25 262.82,221.25 262.84,221.25 262.85,221.25 262.86,221.25 262.87,221.25 262.88,221.25 262.89,221.25 262.91,221.25 262.92,221.25 262.93,221.25 262.94,221.25 262.95,221.25 262.97,221.25 262.98,221.25 262.99,221.25 263.05,221.25 263.11,221.25 263.17,221.25 263.23,221.25 263.29,221.25 263.35,221.25 263.41,221.25 263.47,221.25 263.53,221.25 263.59,221.25 263.64,221.25 263.65,221.25 263.71,221.25 263.76,221.25 263.82,221.25 263.88,221.25 263.94,221.25 264.00,221.25 264.06,221.25 264.12,221.25 264.18,221.25 264.24,221.25 264.30,221.25 264.36,221.25 264.42,221.25 264.48,221.25 264.54,221.25 264.60,221.25 264.66,221.25 264.72,221.25 264.78,221.25 264.84,221.25 264.90,221.25 264.96,221.25 265.02,221.25 265.08,221.25 265.14,221.25 265.19,221.25 265.25,221.25 265.31,221.25 265.37,221.25 265.43,221.25 265.49,221.25 265.49,221.25 265.55,221.25 265.61,221.25 265.67,221.25 265.73,221.25 265.79,221.25 265.85,221.25 265.91,221.25 265.97,221.25 266.03,221.25 266.09,221.25 266.15,221.25 266.21,221.25 266.27,221.25 266.33,221.25 266.39,221.25 266.45,221.25 266.51,221.25 266.57,221.25 266.62,221.25 266.68,221.25 266.74,221.25 266.80,221.25 266.86,221.25 266.92,221.25 266.98,221.25 267.04,221.25 267.10,221.25 267.16,221.25 267.22,221.25 267.28,221.25 267.34,221.25 269.20,221.25 271.05,221.25 272.90,221.25" fill="none" stroke="#A2142F" stroke-width="2.7" stroke-linejoin="round" stroke-dasharray="6.9 7.2" clip-path="url(#cBL)"/>
<text x="47.5" y="154.73" text-anchor="end" font-size="14.3" textLength="20.70" lengthAdjust="spacingAndGlyphs">180</text>
<text x="47.5" y="172.71" text-anchor="end" font-size="14.3" textLength="20.70" lengthAdjust="spacingAndGlyphs">135</text>
<text x="47.5" y="190.59" text-anchor="end" font-size="14.3" textLength="13.80" lengthAdjust="spacingAndGlyphs">90</text>
<text x="47.5" y="208.47" text-anchor="end" font-size="14.3" textLength="13.80" lengthAdjust="spacingAndGlyphs">45</text>
<text x="47.5" y="225.85" text-anchor="end" font-size="14.3" textLength="6.90" lengthAdjust="spacingAndGlyphs">0</text>
<text x="42.60" y="248.40" font-size="14.3">10<tspan dx="-0.5" dy="-7.4" font-size="11.8">0</tspan></text>
<text x="102.18" y="248.40" font-size="14.3">10<tspan dx="-0.5" dy="-7.4" font-size="11.8">1</tspan></text>
<text x="161.77" y="248.40" font-size="14.3">10<tspan dx="-0.5" dy="-7.4" font-size="11.8">2</tspan></text>
<text x="221.35" y="248.40" font-size="14.3">10<tspan dx="-0.5" dy="-7.4" font-size="11.8">3</tspan></text>
<rect x="326.4" y="12.15" width="215.50" height="81.35" fill="#fff"/>
<line x1="326.4" x2="541.9" y1="21.50" y2="21.50" stroke="#e2e2e2" stroke-width="1"/>
<line x1="326.4" x2="541.9" y1="42.50" y2="42.50" stroke="#e2e2e2" stroke-width="1"/>
<line x1="326.4" x2="541.9" y1="62.50" y2="62.50" stroke="#e2e2e2" stroke-width="1"/>
<line x1="326.4" x2="541.9" y1="83.50" y2="83.50" stroke="#e2e2e2" stroke-width="1"/>
<line x1="343.94" x2="343.94" y1="12.55" y2="93.5" stroke="#707070" stroke-width="1" stroke-dasharray="1 2.19"/>
<line x1="354.20" x2="354.20" y1="12.55" y2="93.5" stroke="#707070" stroke-width="1" stroke-dasharray="1 2.19"/>
<line x1="361.48" x2="361.48" y1="12.55" y2="93.5" stroke="#707070" stroke-width="1" stroke-dasharray="1 2.19"/>
<line x1="367.12" x2="367.12" y1="12.55" y2="93.5" stroke="#707070" stroke-width="1" stroke-dasharray="1 2.19"/>
<line x1="371.73" x2="371.73" y1="12.55" y2="93.5" stroke="#707070" stroke-width="1" stroke-dasharray="1 2.19"/>
<line x1="375.63" x2="375.63" y1="12.55" y2="93.5" stroke="#707070" stroke-width="1" stroke-dasharray="1 2.19"/>
<line x1="379.01" x2="379.01" y1="12.55" y2="93.5" stroke="#707070" stroke-width="1" stroke-dasharray="1 2.19"/>
<line x1="381.99" x2="381.99" y1="12.55" y2="93.5" stroke="#707070" stroke-width="1" stroke-dasharray="1 2.19"/>
<line x1="402.20" x2="402.20" y1="12.55" y2="93.5" stroke="#707070" stroke-width="1" stroke-dasharray="1 2.19"/>
<line x1="412.46" x2="412.46" y1="12.55" y2="93.5" stroke="#707070" stroke-width="1" stroke-dasharray="1 2.19"/>
<line x1="419.74" x2="419.74" y1="12.55" y2="93.5" stroke="#707070" stroke-width="1" stroke-dasharray="1 2.19"/>
<line x1="425.38" x2="425.38" y1="12.55" y2="93.5" stroke="#707070" stroke-width="1" stroke-dasharray="1 2.19"/>
<line x1="429.99" x2="429.99" y1="12.55" y2="93.5" stroke="#707070" stroke-width="1" stroke-dasharray="1 2.19"/>
<line x1="433.89" x2="433.89" y1="12.55" y2="93.5" stroke="#707070" stroke-width="1" stroke-dasharray="1 2.19"/>
<line x1="437.27" x2="437.27" y1="12.55" y2="93.5" stroke="#707070" stroke-width="1" stroke-dasharray="1 2.19"/>
<line x1="440.25" x2="440.25" y1="12.55" y2="93.5" stroke="#707070" stroke-width="1" stroke-dasharray="1 2.19"/>
<line x1="460.46" x2="460.46" y1="12.55" y2="93.5" stroke="#707070" stroke-width="1" stroke-dasharray="1 2.19"/>
<line x1="470.72" x2="470.72" y1="12.55" y2="93.5" stroke="#707070" stroke-width="1" stroke-dasharray="1 2.19"/>
<line x1="477.99" x2="477.99" y1="12.55" y2="93.5" stroke="#707070" stroke-width="1" stroke-dasharray="1 2.19"/>
<line x1="483.64" x2="483.64" y1="12.55" y2="93.5" stroke="#707070" stroke-width="1" stroke-dasharray="1 2.19"/>
<line x1="488.25" x2="488.25" y1="12.55" y2="93.5" stroke="#707070" stroke-width="1" stroke-dasharray="1 2.19"/>
<line x1="492.15" x2="492.15" y1="12.55" y2="93.5" stroke="#707070" stroke-width="1" stroke-dasharray="1 2.19"/>
<line x1="495.53" x2="495.53" y1="12.55" y2="93.5" stroke="#707070" stroke-width="1" stroke-dasharray="1 2.19"/>
<line x1="498.51" x2="498.51" y1="12.55" y2="93.5" stroke="#707070" stroke-width="1" stroke-dasharray="1 2.19"/>
<line x1="518.72" x2="518.72" y1="12.55" y2="93.5" stroke="#707070" stroke-width="1" stroke-dasharray="1 2.19"/>
<line x1="528.98" x2="528.98" y1="12.55" y2="93.5" stroke="#707070" stroke-width="1" stroke-dasharray="1 2.19"/>
<line x1="536.25" x2="536.25" y1="12.55" y2="93.5" stroke="#707070" stroke-width="1" stroke-dasharray="1 2.19"/>
<line x1="384.66" x2="384.66" y1="12.15" y2="93.5" stroke="#a4a4a4" stroke-width="1.3"/>
<line x1="442.92" x2="442.92" y1="12.15" y2="93.5" stroke="#a4a4a4" stroke-width="1.3"/>
<line x1="501.18" x2="501.18" y1="12.15" y2="93.5" stroke="#a4a4a4" stroke-width="1.3"/>
<path d="M326.4 21.75h2.6M541.9 21.75h-2.6" stroke="#848484" stroke-width="1" fill="none"/>
<path d="M326.4 42.25h2.6M541.9 42.25h-2.6" stroke="#848484" stroke-width="1" fill="none"/>
<path d="M326.4 62.75h2.6M541.9 62.75h-2.6" stroke="#848484" stroke-width="1" fill="none"/>
<path d="M326.4 83.25h2.6M541.9 83.25h-2.6" stroke="#848484" stroke-width="1" fill="none"/>
<path d="M326.40 93.5v-2.6M326.40 12.15v2.6" stroke="#848484" stroke-width="0.9" fill="none"/>
<path d="M343.94 93.5v-1.4M343.94 12.15v1.4" stroke="#848484" stroke-width="0.9" fill="none"/>
<path d="M354.20 93.5v-1.4M354.20 12.15v1.4" stroke="#848484" stroke-width="0.9" fill="none"/>
<path d="M361.48 93.5v-1.4M361.48 12.15v1.4" stroke="#848484" stroke-width="0.9" fill="none"/>
<path d="M367.12 93.5v-1.4M367.12 12.15v1.4" stroke="#848484" stroke-width="0.9" fill="none"/>
<path d="M371.73 93.5v-1.4M371.73 12.15v1.4" stroke="#848484" stroke-width="0.9" fill="none"/>
<path d="M375.63 93.5v-1.4M375.63 12.15v1.4" stroke="#848484" stroke-width="0.9" fill="none"/>
<path d="M379.01 93.5v-1.4M379.01 12.15v1.4" stroke="#848484" stroke-width="0.9" fill="none"/>
<path d="M381.99 93.5v-1.4M381.99 12.15v1.4" stroke="#848484" stroke-width="0.9" fill="none"/>
<path d="M384.66 93.5v-2.6M384.66 12.15v2.6" stroke="#848484" stroke-width="0.9" fill="none"/>
<path d="M402.20 93.5v-1.4M402.20 12.15v1.4" stroke="#848484" stroke-width="0.9" fill="none"/>
<path d="M412.46 93.5v-1.4M412.46 12.15v1.4" stroke="#848484" stroke-width="0.9" fill="none"/>
<path d="M419.74 93.5v-1.4M419.74 12.15v1.4" stroke="#848484" stroke-width="0.9" fill="none"/>
<path d="M425.38 93.5v-1.4M425.38 12.15v1.4" stroke="#848484" stroke-width="0.9" fill="none"/>
<path d="M429.99 93.5v-1.4M429.99 12.15v1.4" stroke="#848484" stroke-width="0.9" fill="none"/>
<path d="M433.89 93.5v-1.4M433.89 12.15v1.4" stroke="#848484" stroke-width="0.9" fill="none"/>
<path d="M437.27 93.5v-1.4M437.27 12.15v1.4" stroke="#848484" stroke-width="0.9" fill="none"/>
<path d="M440.25 93.5v-1.4M440.25 12.15v1.4" stroke="#848484" stroke-width="0.9" fill="none"/>
<path d="M442.92 93.5v-2.6M442.92 12.15v2.6" stroke="#848484" stroke-width="0.9" fill="none"/>
<path d="M460.46 93.5v-1.4M460.46 12.15v1.4" stroke="#848484" stroke-width="0.9" fill="none"/>
<path d="M470.72 93.5v-1.4M470.72 12.15v1.4" stroke="#848484" stroke-width="0.9" fill="none"/>
<path d="M477.99 93.5v-1.4M477.99 12.15v1.4" stroke="#848484" stroke-width="0.9" fill="none"/>
<path d="M483.64 93.5v-1.4M483.64 12.15v1.4" stroke="#848484" stroke-width="0.9" fill="none"/>
<path d="M488.25 93.5v-1.4M488.25 12.15v1.4" stroke="#848484" stroke-width="0.9" fill="none"/>
<path d="M492.15 93.5v-1.4M492.15 12.15v1.4" stroke="#848484" stroke-width="0.9" fill="none"/>
<path d="M495.53 93.5v-1.4M495.53 12.15v1.4" stroke="#848484" stroke-width="0.9" fill="none"/>
<path d="M498.51 93.5v-1.4M498.51 12.15v1.4" stroke="#848484" stroke-width="0.9" fill="none"/>
<path d="M501.18 93.5v-2.6M501.18 12.15v2.6" stroke="#848484" stroke-width="0.9" fill="none"/>
<path d="M518.72 93.5v-1.4M518.72 12.15v1.4" stroke="#848484" stroke-width="0.9" fill="none"/>
<path d="M528.98 93.5v-1.4M528.98 12.15v1.4" stroke="#848484" stroke-width="0.9" fill="none"/>
<path d="M536.25 93.5v-1.4M536.25 12.15v1.4" stroke="#848484" stroke-width="0.9" fill="none"/>
<path d="M541.90 93.5v-1.4M541.90 12.15v1.4" stroke="#848484" stroke-width="0.9" fill="none"/>
<rect x="326.4" y="12.15" width="215.50" height="81.35" fill="none" stroke="#848484" stroke-width="1.45"/>
<line x1="326.4" x2="541.9" y1="42.25" y2="42.25" stroke="#5a5a5a" stroke-width="1.1" stroke-dasharray="8.5 5.7"/>
<polyline points="326.40,50.19 328.21,50.19 330.02,50.19 331.83,50.19 333.64,50.19 335.45,50.19 337.27,50.19 339.08,50.19 340.89,50.19 342.70,50.19 344.51,50.19 346.32,50.19 348.13,50.19 349.94,50.19 351.75,50.19 353.56,50.19 355.37,50.19 357.19,50.19 359.00,50.19 360.81,50.19 362.62,50.19 364.43,50.19 366.24,50.19 368.05,50.19 369.86,50.19 371.67,50.19 373.48,50.19 375.29,50.19 377.11,50.19 378.92,50.19 380.73,50.19 382.54,50.19 384.35,50.19 386.16,50.19 387.97,50.19 389.78,50.19 391.59,50.19 393.40,50.19 395.22,50.19 397.03,50.19 398.84,50.18 400.65,50.18 402.46,50.18 404.27,50.18 406.08,50.18 407.89,50.17 409.70,50.17 411.51,50.17 413.32,50.16 415.14,50.16 416.95,50.15 418.76,50.15 420.57,50.14 422.38,50.13 424.19,50.12 426.00,50.11 427.81,50.10 429.62,50.08 431.43,50.07 433.24,50.05 435.06,50.02 436.87,50.00 438.68,49.96 440.49,49.93 442.30,49.89 444.11,49.84 445.92,49.78 447.73,49.72 449.54,49.64 451.35,49.55 453.16,49.45 454.98,49.33 456.79,49.19 458.60,49.02 460.41,48.83 462.22,48.59 464.03,48.32 465.84,47.98 467.65,47.58 469.46,47.09 471.27,46.48 473.08,45.71 474.90,44.71 476.71,43.36 478.31,41.67 478.37,41.60 478.43,41.52 478.49,41.45 478.52,41.41 478.55,41.37 478.60,41.29 478.66,41.21 478.72,41.13 478.78,41.04 478.84,40.96 478.90,40.87 478.95,40.79 479.01,40.70 479.07,40.61 479.13,40.51 479.19,40.42 479.25,40.33 479.30,40.23 479.36,40.13 479.42,40.03 479.48,39.92 479.54,39.82 479.59,39.71 479.65,39.60 479.71,39.49 479.77,39.38 479.83,39.26 479.89,39.14 479.94,39.02 480.00,38.90 480.06,38.77 480.12,38.64 480.18,38.51 480.24,38.37 480.29,38.23 480.33,38.14 480.35,38.09 480.41,37.94 480.47,37.79 480.53,37.63 480.59,37.47 480.64,37.31 480.70,37.14 480.76,36.96 480.82,36.79 480.88,36.60 480.93,36.41 480.99,36.21 481.05,36.01 481.07,35.95 481.11,35.80 481.13,35.74 481.17,35.58 481.18,35.52 481.23,35.35 481.24,35.29 481.28,35.12 481.30,35.05 481.34,34.88 481.36,34.81 481.40,34.62 481.42,34.55 481.46,34.36 481.48,34.28 481.52,34.08 481.53,34.00 481.58,33.79 481.59,33.71 481.63,33.49 481.65,33.41 481.69,33.18 481.71,33.09 481.75,32.84 481.77,32.75 481.81,32.49 481.82,32.40 481.87,32.13 481.88,32.02 481.93,31.74 481.94,31.63 481.98,31.33 482.00,31.21 482.04,30.89 482.06,30.77 482.10,30.42 482.12,30.29 482.14,30.09 482.16,29.93 482.17,29.78 482.22,29.39 482.23,29.24 482.27,28.82 482.29,28.66 482.33,28.20 482.35,28.03 482.39,27.53 482.41,27.34 482.45,26.81 482.47,26.60 482.51,26.01 482.52,25.85 482.52,25.79 482.53,25.68 482.54,25.50 482.55,25.33 482.57,25.15 482.58,24.97 482.58,24.90 482.59,24.78 482.60,24.59 482.61,24.40 482.62,24.21 482.64,24.01 482.64,23.94 482.65,23.81 482.66,23.60 482.67,23.40 482.68,23.19 482.69,22.98 482.70,22.90 482.71,22.76 482.72,22.54 482.73,22.32 482.74,22.10 482.75,21.88 482.76,21.80 482.76,21.66 482.78,21.44 482.79,21.22 482.80,21.00 482.81,20.79 482.81,20.72 482.82,20.58 482.83,20.38 482.85,20.18 482.86,19.99 482.87,19.82 482.87,19.76 482.88,19.66 482.89,19.51 482.90,19.38 482.92,19.27 482.93,19.18 482.93,19.15 482.94,19.11 482.95,19.07 482.96,19.05 482.97,19.06 482.99,19.10 482.99,19.11 483.00,19.16 483.01,19.24 483.02,19.35 483.03,19.49 483.04,19.64 483.05,19.70 483.06,19.81 483.07,20.00 483.08,20.21 483.09,20.43 483.10,20.66 483.11,20.74 483.11,20.90 483.13,21.14 483.14,21.40 483.15,21.65 483.16,21.92 483.16,22.01 483.17,22.18 483.18,22.44 483.20,22.71 483.21,22.97 483.22,23.24 483.22,23.33 483.23,23.50 483.24,23.76 483.25,24.02 483.27,24.28 483.28,24.53 483.28,24.62 483.29,24.78 483.30,25.03 483.31,25.27 483.32,25.52 483.34,25.75 483.34,25.84 483.35,25.99 483.36,26.22 483.37,26.45 483.38,26.68 483.39,26.90 483.40,26.98 483.41,27.12 483.42,27.34 483.43,27.56 483.44,27.77 483.46,28.05 483.50,28.78 483.51,29.05 483.56,29.74 483.57,29.99 483.61,30.64 483.63,30.87 483.67,31.49 483.69,31.71 483.73,32.30 483.75,32.51 483.79,33.07 483.81,33.27 483.84,33.77 483.85,33.81 483.86,34.00 483.90,34.48 483.91,34.52 483.92,34.71 483.95,35.05 483.96,35.17 483.96,35.21 483.98,35.39 484.02,35.84 484.02,35.88 484.04,36.06 484.08,36.49 484.08,36.53 484.10,36.70 484.14,37.13 484.14,37.16 484.15,37.33 484.19,37.75 484.20,37.79 484.21,37.95 484.25,38.36 484.26,38.40 484.27,38.56 484.31,38.97 484.31,39.00 484.33,39.16 484.37,39.56 484.37,39.60 484.39,39.76 484.43,40.15 484.43,40.19 484.45,40.35 484.49,40.74 484.49,40.77 484.50,40.93 484.54,41.33 484.55,41.36 484.56,41.52 484.60,41.91 484.61,41.94 484.62,42.10 484.66,42.49 484.66,42.53 484.68,42.69 484.72,43.08 484.72,43.11 484.74,43.27 484.78,43.67 484.78,43.70 484.80,43.86 484.84,44.26 484.84,44.29 484.85,44.45 484.89,44.86 484.90,44.89 484.91,45.05 484.95,45.46 484.95,45.49 484.97,45.65 485.01,46.06 485.01,46.10 485.03,46.26 485.07,46.67 485.07,46.70 485.09,46.87 485.13,47.28 485.13,47.32 485.15,47.48 485.18,47.89 485.19,47.92 485.20,48.09 485.24,48.50 485.25,48.53 485.26,48.69 485.27,48.81 485.29,48.93 485.30,49.05 485.30,49.09 485.30,49.12 485.31,49.16 485.32,49.28 485.33,49.39 485.34,49.51 485.36,49.62 485.36,49.66 485.36,49.69 485.37,49.73 485.38,49.84 485.39,49.95 485.40,50.06 485.41,50.17 485.42,50.20 485.42,50.23 485.43,50.27 485.44,50.37 485.45,50.47 485.46,50.57 485.47,50.66 485.48,50.70 485.48,50.72 485.48,50.76 485.49,50.85 485.51,50.93 485.52,51.02 485.53,51.10 485.53,51.13 485.54,51.15 485.54,51.18 485.55,51.25 485.56,51.32 485.58,51.39 485.59,51.45 485.59,51.47 485.60,51.49 485.60,51.51 485.61,51.56 485.62,51.61 485.63,51.66 485.65,51.70 485.65,51.71 485.65,51.72 485.66,51.74 485.67,51.77 485.68,51.79 485.69,51.82 485.70,51.83 485.71,51.84 485.71,51.84 485.72,51.84 485.73,51.85 485.74,51.85 485.75,51.85 485.76,51.84 485.76,51.84 485.77,51.84 485.77,51.83 485.77,51.83 485.79,51.81 485.80,51.79 485.81,51.76 485.82,51.73 485.83,51.71 485.83,51.70 485.83,51.69 485.84,51.65 485.86,51.60 485.87,51.55 485.88,51.50 485.88,51.48 485.89,51.46 485.89,51.44 485.90,51.38 485.91,51.31 485.93,51.25 485.94,51.17 485.94,51.15 485.95,51.13 485.95,51.10 485.96,51.02 485.97,50.94 485.98,50.86 486.00,50.77 486.00,50.74 486.00,50.71 486.01,50.68 486.02,50.59 486.03,50.50 486.04,50.40 486.05,50.30 486.06,50.27 486.06,50.24 486.07,50.20 486.08,50.10 486.09,50.00 486.10,49.90 486.11,49.80 486.12,49.76 486.12,49.73 486.12,49.69 486.14,49.58 486.15,49.48 486.16,49.37 486.17,49.26 486.17,49.22 486.18,49.19 486.18,49.15 486.19,49.04 486.23,48.66 486.24,48.63 486.25,48.48 486.29,48.10 486.29,48.07 486.31,47.92 486.35,47.53 486.35,47.50 486.37,47.35 486.41,46.97 486.41,46.94 486.43,46.78 486.47,46.40 486.47,46.37 486.49,46.22 486.52,45.85 486.53,45.81 486.54,45.66 486.58,45.29 486.59,45.26 486.60,45.11 486.64,44.74 486.64,44.71 486.66,44.56 486.70,44.19 486.70,44.16 486.72,44.02 486.76,43.65 486.76,43.62 486.78,43.47 486.82,43.11 486.82,43.08 486.83,42.93 486.87,42.57 486.88,42.54 486.89,42.39 486.93,42.03 486.94,42.00 486.95,41.85 486.99,41.49 486.99,41.46 487.01,41.31 487.05,40.95 487.05,40.91 487.07,40.77 487.11,40.40 487.11,40.37 487.13,40.22 487.17,39.84 487.17,39.81 487.18,39.66 487.22,39.28 487.23,39.25 487.24,39.10 487.28,38.71 487.29,38.68 487.30,38.52 487.34,38.13 487.34,38.10 487.36,37.94 487.40,37.54 487.40,37.50 487.42,37.34 487.46,36.93 487.46,36.89 487.48,36.72 487.51,36.30 487.52,36.26 487.53,36.09 487.57,35.65 487.57,35.64 487.58,35.61 487.59,35.43 487.63,34.97 487.63,34.93 487.65,34.74 487.69,34.26 487.71,34.02 487.75,33.52 487.77,33.27 487.81,32.74 487.83,32.47 487.86,31.91 487.88,31.63 487.92,31.03 487.94,30.73 487.98,30.09 488.00,29.77 488.04,29.07 488.05,28.86 488.06,28.72 488.06,28.64 488.07,28.42 488.09,28.20 488.10,27.97 488.11,27.74 488.12,27.59 488.12,27.51 488.13,27.27 488.14,27.02 488.16,26.78 488.17,26.52 488.17,26.36 488.18,26.27 488.19,26.01 488.20,25.74 488.21,25.47 488.23,25.20 488.23,25.02 488.24,24.92 488.25,24.63 488.26,24.35 488.27,24.06 488.28,23.76 488.29,23.58 488.30,23.47 488.31,23.17 488.32,22.87 488.33,22.57 488.34,22.27 488.35,22.08 488.35,21.98 488.37,21.69 488.38,21.40 488.39,21.12 488.40,20.85 488.41,20.69 488.41,20.60 488.42,20.37 488.44,20.15 488.45,19.96 488.46,19.79 488.47,19.70 488.47,19.66 488.48,19.56 488.49,19.49 488.51,19.46 488.52,19.46 488.52,19.48 488.53,19.50 488.54,19.58 488.55,19.69 488.56,19.83 488.58,19.99 488.58,20.11 488.59,20.18 488.60,20.39 488.61,20.62 488.62,20.86 488.63,21.11 488.64,21.27 488.65,21.37 488.66,21.63 488.67,21.90 488.68,22.18 488.69,22.45 488.70,22.62 488.70,22.72 488.72,22.99 488.73,23.26 488.74,23.53 488.75,23.79 488.76,23.96 488.76,24.05 488.77,24.31 488.79,24.56 488.80,24.81 488.81,25.05 488.82,25.20 488.82,25.29 488.83,25.52 488.84,25.75 488.85,25.98 488.87,26.20 488.87,26.34 488.88,26.41 488.89,26.63 488.90,26.83 488.91,27.04 488.92,27.24 488.93,27.36 488.94,27.43 488.95,27.63 488.96,27.82 488.97,28.00 488.99,28.30 489.03,28.88 489.05,29.15 489.09,29.68 489.11,29.92 489.15,30.41 489.17,30.64 489.20,31.09 489.22,31.30 489.26,31.72 489.28,31.92 489.32,32.31 489.34,32.49 489.38,32.86 489.38,32.89 489.40,33.03 489.44,33.37 489.46,33.53 489.50,33.86 489.51,34.01 489.55,34.32 489.57,34.46 489.61,34.75 489.63,34.89 489.67,35.17 489.69,35.30 489.73,35.56 489.75,35.69 489.79,35.94 489.81,36.06 489.85,36.30 489.86,36.41 489.90,36.65 489.92,36.76 489.96,36.98 489.98,37.08 490.02,37.30 490.04,37.40 490.08,37.60 490.10,37.70 490.14,37.90 490.16,38.00 490.19,38.19 490.21,38.28 490.25,38.47 490.27,38.56 490.31,38.74 490.33,38.82 490.37,39.00 490.39,39.08 490.43,39.25 490.49,39.50 490.54,39.74 490.60,39.97 490.66,40.20 490.72,40.42 490.78,40.63 490.84,40.84 490.89,41.05 490.95,41.25 491.01,41.45 491.07,41.64 491.13,41.83 491.19,42.02 491.19,42.04 491.24,42.20 491.30,42.38 491.36,42.55 491.42,42.72 491.48,42.89 491.53,43.06 491.59,43.22 491.65,43.38 491.71,43.54 491.77,43.69 491.83,43.85 491.88,44.00 491.94,44.15 492.00,44.29 492.06,44.44 492.12,44.58 492.18,44.72 492.23,44.86 492.29,45.00 492.35,45.13 492.41,45.26 492.47,45.40 492.53,45.53 492.58,45.66 492.64,45.78 492.70,45.91 492.76,46.03 492.82,46.16 492.87,46.28 492.93,46.40 492.99,46.52 493.01,46.55 493.05,46.64 493.11,46.75 493.17,46.87 494.82,49.76 496.63,52.38 498.44,54.65 500.25,56.69 502.06,58.57 503.87,60.34 505.68,62.01 507.49,63.62 509.30,65.17 511.11,66.68 512.93,68.15 514.74,69.59 516.55,71.00 518.36,72.40 520.17,73.78 521.98,75.14 523.79,76.49 525.60,77.83 527.41,79.16 529.22,80.48 531.03,81.80 532.85,83.11 534.66,84.41 536.47,85.71 538.28,87.01 540.09,88.31 541.90,89.60" fill="none" stroke="#0072BD" stroke-width="2.5" stroke-linejoin="round" clip-path="url(#cTR)"/>
<polyline points="326.40,92.12 328.21,91.53 330.02,90.94 331.83,90.34 333.64,89.75 335.45,89.16 337.27,88.57 339.08,87.97 340.89,87.38 342.70,86.79 344.51,86.19 346.32,85.60 348.13,85.01 349.94,84.42 351.75,83.82 353.56,83.23 355.37,82.64 357.19,82.05 359.00,81.45 360.81,80.86 362.62,80.27 364.43,79.68 366.24,79.08 368.05,78.49 369.86,77.90 371.67,77.30 373.48,76.71 375.29,76.12 377.11,75.53 378.92,74.93 380.73,74.34 382.54,73.75 384.35,73.15 386.16,72.53 387.97,71.89 389.78,71.26 391.59,70.63 393.40,70.00 395.22,69.37 397.03,68.74 398.84,68.11 400.65,67.48 402.46,66.86 404.27,66.24 406.08,65.62 407.89,65.00 409.70,64.38 411.51,63.77 413.32,63.16 415.14,62.55 416.95,61.95 418.76,61.36 420.57,60.77 422.38,60.19 424.19,59.61 426.00,59.04 427.81,58.48 429.62,57.93 431.43,57.40 433.24,56.87 435.06,56.35 436.87,55.85 438.68,55.36 440.49,54.89 442.30,54.43 444.11,53.99 445.92,53.55 447.73,53.14 449.54,52.73 451.35,52.33 453.16,51.95 454.98,51.56 456.79,51.18 458.60,50.80 460.41,50.40 462.22,49.99 464.03,49.55 465.84,49.07 467.65,48.53 469.46,47.93 471.27,47.22 473.08,46.35 474.90,45.28 476.71,43.86 478.31,42.11 478.37,42.03 478.43,41.95 478.49,41.88 478.52,41.84 478.55,41.80 478.60,41.72 478.66,41.63 478.72,41.55 478.78,41.46 478.84,41.38 478.90,41.29 478.95,41.20 479.01,41.11 479.07,41.02 479.13,40.92 479.19,40.83 479.25,40.73 479.30,40.63 479.36,40.53 479.42,40.43 479.48,40.32 479.54,40.22 479.59,40.11 479.65,40.00 479.71,39.88 479.77,39.77 479.83,39.65 479.89,39.53 479.94,39.41 480.00,39.28 480.06,39.15 480.12,39.02 480.18,38.88 480.24,38.75 480.29,38.60 480.33,38.52 480.35,38.46 480.41,38.31 480.47,38.16 480.53,38.00 480.59,37.84 480.64,37.67 480.70,37.50 480.76,37.33 480.82,37.15 480.88,36.96 480.93,36.77 480.99,36.57 481.05,36.36 481.07,36.31 481.11,36.15 481.13,36.09 481.17,35.93 481.18,35.87 481.23,35.70 481.24,35.64 481.28,35.47 481.30,35.40 481.34,35.22 481.36,35.15 481.40,34.97 481.42,34.90 481.46,34.70 481.48,34.63 481.52,34.42 481.53,34.35 481.58,34.13 481.59,34.05 481.63,33.83 481.65,33.75 481.69,33.51 481.71,33.42 481.75,33.18 481.77,33.09 481.81,32.83 481.82,32.73 481.87,32.46 481.88,32.36 481.93,32.07 481.94,31.96 481.98,31.66 482.00,31.54 482.04,31.22 482.06,31.09 482.10,30.75 482.12,30.62 482.14,30.42 482.16,30.25 482.17,30.11 482.22,29.72 482.23,29.57 482.27,29.14 482.29,28.98 482.33,28.52 482.35,28.35 482.39,27.85 482.41,27.66 482.45,27.13 482.47,26.92 482.51,26.33 482.52,26.16 482.52,26.10 482.53,25.99 482.54,25.82 482.55,25.65 482.57,25.47 482.58,25.28 482.58,25.22 482.59,25.10 482.60,24.91 482.61,24.72 482.62,24.52 482.64,24.32 482.64,24.25 482.65,24.12 482.66,23.92 482.67,23.71 482.68,23.50 482.69,23.29 482.70,23.21 482.71,23.07 482.72,22.86 482.73,22.64 482.74,22.42 482.75,22.19 482.76,22.12 482.76,21.97 482.78,21.75 482.79,21.53 482.80,21.31 482.81,21.10 482.81,21.03 482.82,20.89 482.83,20.69 482.85,20.49 482.86,20.30 482.87,20.13 482.87,20.07 482.88,19.97 482.89,19.82 482.90,19.69 482.92,19.58 482.93,19.49 482.93,19.46 482.94,19.42 482.95,19.38 482.96,19.36 482.97,19.37 482.99,19.40 482.99,19.42 483.00,19.46 483.01,19.55 483.02,19.66 483.03,19.79 483.04,19.94 483.05,20.00 483.06,20.12 483.07,20.31 483.08,20.51 483.09,20.73 483.10,20.96 483.11,21.05 483.11,21.20 483.13,21.45 483.14,21.70 483.15,21.96 483.16,22.22 483.16,22.31 483.17,22.48 483.18,22.74 483.20,23.01 483.21,23.27 483.22,23.54 483.22,23.63 483.23,23.80 483.24,24.06 483.25,24.32 483.27,24.57 483.28,24.83 483.28,24.92 483.29,25.08 483.30,25.33 483.31,25.57 483.32,25.81 483.34,26.05 483.34,26.14 483.35,26.29 483.36,26.52 483.37,26.75 483.38,26.98 483.39,27.20 483.40,27.28 483.41,27.42 483.42,27.64 483.43,27.85 483.44,28.06 483.46,28.34 483.50,29.08 483.51,29.34 483.56,30.03 483.57,30.28 483.61,30.93 483.63,31.16 483.67,31.78 483.69,32.00 483.73,32.59 483.75,32.80 483.79,33.36 483.81,33.56 483.84,34.05 483.85,34.09 483.86,34.29 483.90,34.77 483.91,34.81 483.92,34.99 483.95,35.33 483.96,35.46 483.96,35.49 483.98,35.68 484.02,36.12 484.02,36.16 484.04,36.34 484.08,36.77 484.08,36.81 484.10,36.98 484.14,37.41 484.14,37.44 484.15,37.61 484.19,38.03 484.20,38.06 484.21,38.23 484.25,38.64 484.26,38.67 484.27,38.84 484.31,39.24 484.31,39.28 484.33,39.44 484.37,39.84 484.37,39.87 484.39,40.03 484.43,40.43 484.43,40.46 484.45,40.62 484.49,41.01 484.49,41.05 484.50,41.20 484.54,41.60 484.55,41.63 484.56,41.79 484.60,42.18 484.61,42.21 484.62,42.37 484.66,42.76 484.66,42.80 484.68,42.95 484.72,43.35 484.72,43.38 484.74,43.54 484.78,43.94 484.78,43.97 484.80,44.13 484.84,44.53 484.84,44.56 484.85,44.72 484.89,45.12 484.90,45.15 484.91,45.32 484.95,45.72 484.95,45.75 484.97,45.92 485.01,46.32 485.01,46.36 485.03,46.52 485.07,46.93 485.07,46.97 485.09,47.13 485.13,47.54 485.13,47.57 485.15,47.74 485.18,48.15 485.19,48.18 485.20,48.35 485.24,48.75 485.25,48.79 485.26,48.95 485.27,49.07 485.29,49.19 485.30,49.30 485.30,49.35 485.30,49.38 485.31,49.42 485.32,49.54 485.33,49.65 485.34,49.76 485.36,49.88 485.36,49.92 485.36,49.95 485.37,49.99 485.38,50.10 485.39,50.21 485.40,50.31 485.41,50.42 485.42,50.46 485.42,50.49 485.43,50.52 485.44,50.63 485.45,50.72 485.46,50.82 485.47,50.92 485.48,50.95 485.48,50.98 485.48,51.01 485.49,51.10 485.51,51.19 485.52,51.27 485.53,51.35 485.53,51.38 485.54,51.40 485.54,51.43 485.55,51.50 485.56,51.57 485.58,51.64 485.59,51.70 485.59,51.72 485.60,51.74 485.60,51.76 485.61,51.81 485.62,51.86 485.63,51.91 485.65,51.95 485.65,51.96 485.65,51.97 485.66,51.99 485.67,52.02 485.68,52.04 485.69,52.06 485.70,52.08 485.71,52.09 485.71,52.09 485.72,52.09 485.73,52.10 485.74,52.10 485.75,52.10 485.76,52.09 485.76,52.09 485.77,52.09 485.77,52.08 485.77,52.08 485.79,52.06 485.80,52.03 485.81,52.01 485.82,51.97 485.83,51.96 485.83,51.95 485.83,51.94 485.84,51.90 485.86,51.85 485.87,51.80 485.88,51.75 485.88,51.72 485.89,51.71 485.89,51.69 485.90,51.62 485.91,51.56 485.93,51.49 485.94,51.42 485.94,51.39 485.95,51.37 485.95,51.34 485.96,51.26 485.97,51.18 485.98,51.10 486.00,51.01 486.00,50.98 486.00,50.95 486.01,50.92 486.02,50.83 486.03,50.74 486.04,50.64 486.05,50.55 486.06,50.51 486.06,50.48 486.07,50.45 486.08,50.35 486.09,50.24 486.10,50.14 486.11,50.04 486.12,50.00 486.12,49.97 486.12,49.93 486.14,49.82 486.15,49.72 486.16,49.61 486.17,49.50 486.17,49.46 486.18,49.43 486.18,49.39 486.19,49.28 486.23,48.90 486.24,48.87 486.25,48.72 486.29,48.34 486.29,48.31 486.31,48.15 486.35,47.77 486.35,47.74 486.37,47.59 486.41,47.20 486.41,47.17 486.43,47.02 486.47,46.64 486.47,46.61 486.49,46.46 486.52,46.08 486.53,46.05 486.54,45.90 486.58,45.52 486.59,45.49 486.60,45.34 486.64,44.97 486.64,44.94 486.66,44.79 486.70,44.42 486.70,44.39 486.72,44.25 486.76,43.88 486.76,43.85 486.78,43.70 486.82,43.34 486.82,43.31 486.83,43.16 486.87,42.80 486.88,42.77 486.89,42.62 486.93,42.26 486.94,42.23 486.95,42.08 486.99,41.71 486.99,41.68 487.01,41.54 487.05,41.17 487.05,41.14 487.07,40.99 487.11,40.62 487.11,40.59 487.13,40.44 487.17,40.07 487.17,40.04 487.18,39.88 487.22,39.50 487.23,39.47 487.24,39.32 487.28,38.93 487.29,38.90 487.30,38.74 487.34,38.35 487.34,38.32 487.36,38.16 487.40,37.76 487.40,37.72 487.42,37.56 487.46,37.14 487.46,37.11 487.48,36.94 487.51,36.51 487.52,36.48 487.53,36.30 487.57,35.87 487.57,35.86 487.58,35.82 487.59,35.64 487.63,35.18 487.63,35.14 487.65,34.95 487.69,34.47 487.71,34.23 487.75,33.73 487.77,33.48 487.81,32.95 487.83,32.69 487.86,32.12 487.88,31.84 487.92,31.24 487.94,30.94 487.98,30.30 488.00,29.97 488.04,29.28 488.05,29.07 488.06,28.93 488.06,28.85 488.07,28.63 488.09,28.41 488.10,28.18 488.11,27.95 488.12,27.80 488.12,27.71 488.13,27.47 488.14,27.23 488.16,26.98 488.17,26.73 488.17,26.57 488.18,26.47 488.19,26.21 488.20,25.94 488.21,25.67 488.23,25.40 488.23,25.22 488.24,25.12 488.25,24.84 488.26,24.55 488.27,24.26 488.28,23.97 488.29,23.78 488.30,23.67 488.31,23.37 488.32,23.07 488.33,22.78 488.34,22.48 488.35,22.29 488.35,22.18 488.37,21.89 488.38,21.60 488.39,21.32 488.40,21.06 488.41,20.89 488.41,20.80 488.42,20.57 488.44,20.35 488.45,20.16 488.46,19.99 488.47,19.90 488.47,19.86 488.48,19.76 488.49,19.69 488.51,19.66 488.52,19.66 488.52,19.68 488.53,19.70 488.54,19.78 488.55,19.89 488.56,20.03 488.58,20.19 488.58,20.31 488.59,20.38 488.60,20.59 488.61,20.82 488.62,21.06 488.63,21.31 488.64,21.47 488.65,21.57 488.66,21.83 488.67,22.10 488.68,22.37 488.69,22.65 488.70,22.82 488.70,22.92 488.72,23.19 488.73,23.46 488.74,23.73 488.75,23.99 488.76,24.15 488.76,24.25 488.77,24.50 488.79,24.76 488.80,25.00 488.81,25.25 488.82,25.40 488.82,25.48 488.83,25.72 488.84,25.95 488.85,26.17 488.87,26.39 488.87,26.53 488.88,26.61 488.89,26.82 488.90,27.03 488.91,27.23 488.92,27.43 488.93,27.56 488.94,27.63 488.95,27.82 488.96,28.01 488.97,28.19 488.99,28.49 489.03,29.07 489.05,29.34 489.09,29.87 489.11,30.11 489.15,30.60 489.17,30.83 489.20,31.28 489.22,31.49 489.26,31.91 489.28,32.11 489.32,32.50 489.34,32.68 489.38,33.04 489.38,33.08 489.40,33.22 489.44,33.56 489.46,33.72 489.50,34.04 489.51,34.20 489.55,34.50 489.57,34.65 489.61,34.94 489.63,35.07 489.67,35.35 489.69,35.48 489.73,35.74 489.75,35.87 489.79,36.12 489.81,36.24 489.85,36.48 489.86,36.59 489.90,36.83 489.92,36.93 489.96,37.16 489.98,37.26 490.02,37.48 490.04,37.58 490.08,37.78 490.10,37.88 490.14,38.08 490.16,38.17 490.19,38.36 490.21,38.46 490.25,38.64 490.27,38.73 490.31,38.91 490.33,39.00 490.37,39.17 490.39,39.25 490.43,39.42 490.49,39.67 490.54,39.91 490.60,40.14 490.66,40.36 490.72,40.59 490.78,40.80 490.84,41.01 490.89,41.22 490.95,41.42 491.01,41.61 491.07,41.81 491.13,41.99 491.19,42.18 491.19,42.21 491.24,42.36 491.30,42.54 491.36,42.71 491.42,42.88 491.48,43.05 491.53,43.22 491.59,43.38 491.65,43.54 491.71,43.70 491.77,43.85 491.83,44.00 491.88,44.15 491.94,44.30 492.00,44.45 492.06,44.59 492.12,44.73 492.18,44.87 492.23,45.01 492.29,45.15 492.35,45.28 492.41,45.41 492.47,45.54 492.53,45.67 492.58,45.80 492.64,45.93 492.70,46.05 492.76,46.18 492.82,46.30 492.87,46.42 492.93,46.54 492.99,46.66 493.01,46.69 493.05,46.78 493.11,46.89 493.17,47.01 494.82,49.89 496.63,52.49 498.44,54.74 500.25,56.77 502.06,58.64 503.87,60.40 505.68,62.06 507.49,63.66 509.30,65.21 511.11,66.71 512.93,68.18 514.74,69.61 516.55,71.03 518.36,72.42 520.17,73.79 521.98,75.15 523.79,76.50 525.60,77.84 527.41,79.17 529.22,80.49 531.03,81.80 532.85,83.11 534.66,84.42 536.47,85.72 538.28,87.02 540.09,88.31 541.90,89.60" fill="none" stroke="#A2142F" stroke-width="2.7" stroke-linejoin="round" stroke-dasharray="6.9 7.2" clip-path="url(#cTR)"/>
<text x="321.4" y="26.95" text-anchor="end" font-size="14.3" textLength="13.80" lengthAdjust="spacingAndGlyphs">20</text>
<text x="321.4" y="47.45" text-anchor="end" font-size="14.3" textLength="6.90" lengthAdjust="spacingAndGlyphs">0</text>
<text x="321.4" y="67.95" text-anchor="end" font-size="14.3" textLength="18.39" lengthAdjust="spacingAndGlyphs">-20</text>
<text x="321.4" y="88.45" text-anchor="end" font-size="14.3" textLength="18.39" lengthAdjust="spacingAndGlyphs">-40</text>
<text x="316.50" y="117.00" font-size="14.3">10<tspan dx="-0.5" dy="-7.4" font-size="11.8">0</tspan></text>
<text x="374.76" y="117.00" font-size="14.3">10<tspan dx="-0.5" dy="-7.4" font-size="11.8">1</tspan></text>
<text x="433.02" y="117.00" font-size="14.3">10<tspan dx="-0.5" dy="-7.4" font-size="11.8">2</tspan></text>
<text x="491.28" y="117.00" font-size="14.3">10<tspan dx="-0.5" dy="-7.4" font-size="11.8">3</tspan></text>
<rect x="326.4" y="143.4" width="215.50" height="81.50" fill="#fff"/>
<line x1="326.4" x2="541.9" y1="149.50" y2="149.50" stroke="#e2e2e2" stroke-width="1"/>
<line x1="326.4" x2="541.9" y1="161.50" y2="161.50" stroke="#e2e2e2" stroke-width="1"/>
<line x1="326.4" x2="541.9" y1="173.50" y2="173.50" stroke="#e2e2e2" stroke-width="1"/>
<line x1="326.4" x2="541.9" y1="184.50" y2="184.50" stroke="#e2e2e2" stroke-width="1"/>
<line x1="326.4" x2="541.9" y1="196.50" y2="196.50" stroke="#e2e2e2" stroke-width="1"/>
<line x1="326.4" x2="541.9" y1="208.50" y2="208.50" stroke="#e2e2e2" stroke-width="1"/>
<line x1="326.4" x2="541.9" y1="219.50" y2="219.50" stroke="#e2e2e2" stroke-width="1"/>
<line x1="343.94" x2="343.94" y1="143.80" y2="224.9" stroke="#707070" stroke-width="1" stroke-dasharray="1 2.19"/>
<line x1="354.20" x2="354.20" y1="143.80" y2="224.9" stroke="#707070" stroke-width="1" stroke-dasharray="1 2.19"/>
<line x1="361.48" x2="361.48" y1="143.80" y2="224.9" stroke="#707070" stroke-width="1" stroke-dasharray="1 2.19"/>
<line x1="367.12" x2="367.12" y1="143.80" y2="224.9" stroke="#707070" stroke-width="1" stroke-dasharray="1 2.19"/>
<line x1="371.73" x2="371.73" y1="143.80" y2="224.9" stroke="#707070" stroke-width="1" stroke-dasharray="1 2.19"/>
<line x1="375.63" x2="375.63" y1="143.80" y2="224.9" stroke="#707070" stroke-width="1" stroke-dasharray="1 2.19"/>
<line x1="379.01" x2="379.01" y1="143.80" y2="224.9" stroke="#707070" stroke-width="1" stroke-dasharray="1 2.19"/>
<line x1="381.99" x2="381.99" y1="143.80" y2="224.9" stroke="#707070" stroke-width="1" stroke-dasharray="1 2.19"/>
<line x1="402.20" x2="402.20" y1="143.80" y2="224.9" stroke="#707070" stroke-width="1" stroke-dasharray="1 2.19"/>
<line x1="412.46" x2="412.46" y1="143.80" y2="224.9" stroke="#707070" stroke-width="1" stroke-dasharray="1 2.19"/>
<line x1="419.74" x2="419.74" y1="143.80" y2="224.9" stroke="#707070" stroke-width="1" stroke-dasharray="1 2.19"/>
<line x1="425.38" x2="425.38" y1="143.80" y2="224.9" stroke="#707070" stroke-width="1" stroke-dasharray="1 2.19"/>
<line x1="429.99" x2="429.99" y1="143.80" y2="224.9" stroke="#707070" stroke-width="1" stroke-dasharray="1 2.19"/>
<line x1="433.89" x2="433.89" y1="143.80" y2="224.9" stroke="#707070" stroke-width="1" stroke-dasharray="1 2.19"/>
<line x1="437.27" x2="437.27" y1="143.80" y2="224.9" stroke="#707070" stroke-width="1" stroke-dasharray="1 2.19"/>
<line x1="440.25" x2="440.25" y1="143.80" y2="224.9" stroke="#707070" stroke-width="1" stroke-dasharray="1 2.19"/>
<line x1="460.46" x2="460.46" y1="143.80" y2="224.9" stroke="#707070" stroke-width="1" stroke-dasharray="1 2.19"/>
<line x1="470.72" x2="470.72" y1="143.80" y2="224.9" stroke="#707070" stroke-width="1" stroke-dasharray="1 2.19"/>
<line x1="477.99" x2="477.99" y1="143.80" y2="224.9" stroke="#707070" stroke-width="1" stroke-dasharray="1 2.19"/>
<line x1="483.64" x2="483.64" y1="143.80" y2="224.9" stroke="#707070" stroke-width="1" stroke-dasharray="1 2.19"/>
<line x1="488.25" x2="488.25" y1="143.80" y2="224.9" stroke="#707070" stroke-width="1" stroke-dasharray="1 2.19"/>
<line x1="492.15" x2="492.15" y1="143.80" y2="224.9" stroke="#707070" stroke-width="1" stroke-dasharray="1 2.19"/>
<line x1="495.53" x2="495.53" y1="143.80" y2="224.9" stroke="#707070" stroke-width="1" stroke-dasharray="1 2.19"/>
<line x1="498.51" x2="498.51" y1="143.80" y2="224.9" stroke="#707070" stroke-width="1" stroke-dasharray="1 2.19"/>
<line x1="518.72" x2="518.72" y1="143.80" y2="224.9" stroke="#707070" stroke-width="1" stroke-dasharray="1 2.19"/>
<line x1="528.98" x2="528.98" y1="143.80" y2="224.9" stroke="#707070" stroke-width="1" stroke-dasharray="1 2.19"/>
<line x1="536.25" x2="536.25" y1="143.80" y2="224.9" stroke="#707070" stroke-width="1" stroke-dasharray="1 2.19"/>
<line x1="384.66" x2="384.66" y1="143.4" y2="224.9" stroke="#a4a4a4" stroke-width="1.3"/>
<line x1="442.92" x2="442.92" y1="143.4" y2="224.9" stroke="#a4a4a4" stroke-width="1.3"/>
<line x1="501.18" x2="501.18" y1="143.4" y2="224.9" stroke="#a4a4a4" stroke-width="1.3"/>
<path d="M326.4 149.85h2.6M541.9 149.85h-2.6" stroke="#848484" stroke-width="1" fill="none"/>
<path d="M326.4 161.50h2.6M541.9 161.50h-2.6" stroke="#848484" stroke-width="1" fill="none"/>
<path d="M326.4 173.15h2.6M541.9 173.15h-2.6" stroke="#848484" stroke-width="1" fill="none"/>
<path d="M326.4 184.80h2.6M541.9 184.80h-2.6" stroke="#848484" stroke-width="1" fill="none"/>
<path d="M326.4 196.45h2.6M541.9 196.45h-2.6" stroke="#848484" stroke-width="1" fill="none"/>
<path d="M326.4 208.10h2.6M541.9 208.10h-2.6" stroke="#848484" stroke-width="1" fill="none"/>
<path d="M326.4 219.75h2.6M541.9 219.75h-2.6" stroke="#848484" stroke-width="1" fill="none"/>
<path d="M326.40 224.9v-2.6M326.40 143.4v2.6" stroke="#848484" stroke-width="0.9" fill="none"/>
<path d="M343.94 224.9v-1.4M343.94 143.4v1.4" stroke="#848484" stroke-width="0.9" fill="none"/>
<path d="M354.20 224.9v-1.4M354.20 143.4v1.4" stroke="#848484" stroke-width="0.9" fill="none"/>
<path d="M361.48 224.9v-1.4M361.48 143.4v1.4" stroke="#848484" stroke-width="0.9" fill="none"/>
<path d="M367.12 224.9v-1.4M367.12 143.4v1.4" stroke="#848484" stroke-width="0.9" fill="none"/>
<path d="M371.73 224.9v-1.4M371.73 143.4v1.4" stroke="#848484" stroke-width="0.9" fill="none"/>
<path d="M375.63 224.9v-1.4M375.63 143.4v1.4" stroke="#848484" stroke-width="0.9" fill="none"/>
<path d="M379.01 224.9v-1.4M379.01 143.4v1.4" stroke="#848484" stroke-width="0.9" fill="none"/>
<path d="M381.99 224.9v-1.4M381.99 143.4v1.4" stroke="#848484" stroke-width="0.9" fill="none"/>
<path d="M384.66 224.9v-2.6M384.66 143.4v2.6" stroke="#848484" stroke-width="0.9" fill="none"/>
<path d="M402.20 224.9v-1.4M402.20 143.4v1.4" stroke="#848484" stroke-width="0.9" fill="none"/>
<path d="M412.46 224.9v-1.4M412.46 143.4v1.4" stroke="#848484" stroke-width="0.9" fill="none"/>
<path d="M419.74 224.9v-1.4M419.74 143.4v1.4" stroke="#848484" stroke-width="0.9" fill="none"/>
<path d="M425.38 224.9v-1.4M425.38 143.4v1.4" stroke="#848484" stroke-width="0.9" fill="none"/>
<path d="M429.99 224.9v-1.4M429.99 143.4v1.4" stroke="#848484" stroke-width="0.9" fill="none"/>
<path d="M433.89 224.9v-1.4M433.89 143.4v1.4" stroke="#848484" stroke-width="0.9" fill="none"/>
<path d="M437.27 224.9v-1.4M437.27 143.4v1.4" stroke="#848484" stroke-width="0.9" fill="none"/>
<path d="M440.25 224.9v-1.4M440.25 143.4v1.4" stroke="#848484" stroke-width="0.9" fill="none"/>
<path d="M442.92 224.9v-2.6M442.92 143.4v2.6" stroke="#848484" stroke-width="0.9" fill="none"/>
<path d="M460.46 224.9v-1.4M460.46 143.4v1.4" stroke="#848484" stroke-width="0.9" fill="none"/>
<path d="M470.72 224.9v-1.4M470.72 143.4v1.4" stroke="#848484" stroke-width="0.9" fill="none"/>
<path d="M477.99 224.9v-1.4M477.99 143.4v1.4" stroke="#848484" stroke-width="0.9" fill="none"/>
<path d="M483.64 224.9v-1.4M483.64 143.4v1.4" stroke="#848484" stroke-width="0.9" fill="none"/>
<path d="M488.25 224.9v-1.4M488.25 143.4v1.4" stroke="#848484" stroke-width="0.9" fill="none"/>
<path d="M492.15 224.9v-1.4M492.15 143.4v1.4" stroke="#848484" stroke-width="0.9" fill="none"/>
<path d="M495.53 224.9v-1.4M495.53 143.4v1.4" stroke="#848484" stroke-width="0.9" fill="none"/>
<path d="M498.51 224.9v-1.4M498.51 143.4v1.4" stroke="#848484" stroke-width="0.9" fill="none"/>
<path d="M501.18 224.9v-2.6M501.18 143.4v2.6" stroke="#848484" stroke-width="0.9" fill="none"/>
<path d="M518.72 224.9v-1.4M518.72 143.4v1.4" stroke="#848484" stroke-width="0.9" fill="none"/>
<path d="M528.98 224.9v-1.4M528.98 143.4v1.4" stroke="#848484" stroke-width="0.9" fill="none"/>
<path d="M536.25 224.9v-1.4M536.25 143.4v1.4" stroke="#848484" stroke-width="0.9" fill="none"/>
<path d="M541.90 224.9v-1.4M541.90 143.4v1.4" stroke="#848484" stroke-width="0.9" fill="none"/>
<rect x="326.4" y="143.4" width="215.50" height="81.50" fill="none" stroke="#848484" stroke-width="1.45"/>
<line x1="326.4" x2="541.9" y1="173.15" y2="173.15" stroke="#5a5a5a" stroke-width="1.1" stroke-dasharray="8.5 5.7"/>
<line x1="326.4" x2="541.9" y1="219.75" y2="219.75" stroke="#5a5a5a" stroke-width="1.1" stroke-dasharray="8.5 5.7"/>
<polyline points="326.40,173.15 328.21,173.15 330.02,173.15 331.83,173.15 333.64,173.15 335.45,173.15 337.27,173.15 339.08,173.15 340.89,173.15 342.70,173.15 344.51,173.15 346.32,173.15 348.13,173.15 349.94,173.15 351.75,173.15 353.56,173.15 355.37,173.15 357.19,173.15 359.00,173.15 360.81,173.15 362.62,173.15 364.43,173.15 366.24,173.15 368.05,173.15 369.86,173.15 371.67,173.15 373.48,173.15 375.29,173.15 377.11,173.15 378.92,173.15 380.73,173.15 382.54,173.15 384.35,173.15 386.16,173.15 387.97,173.15 389.78,173.15 391.59,173.15 393.40,173.15 395.22,173.15 397.03,173.15 398.84,173.15 400.65,173.15 402.46,173.15 404.27,173.15 406.08,173.14 407.89,173.14 409.70,173.14 411.51,173.14 413.32,173.14 415.14,173.14 416.95,173.14 418.76,173.14 420.57,173.14 422.38,173.14 424.19,173.14 426.00,173.14 427.81,173.14 429.62,173.14 431.43,173.14 433.24,173.13 435.06,173.13 436.87,173.13 438.68,173.13 440.49,173.13 442.30,173.13 444.11,173.13 445.92,173.12 447.73,173.12 449.54,173.12 451.35,173.12 453.16,173.11 454.98,173.11 456.79,173.11 458.60,173.10 460.41,173.10 462.22,173.10 464.03,173.09 465.84,173.09 467.65,173.08 469.46,173.07 471.27,173.07 473.08,173.06 474.90,173.06 476.71,173.06 478.31,173.09 478.37,173.09 478.43,173.10 478.49,173.10 478.52,173.10 478.55,173.10 478.60,173.10 478.66,173.11 478.72,173.11 478.78,173.11 478.84,173.12 478.90,173.12 478.95,173.12 479.01,173.13 479.07,173.13 479.13,173.13 479.19,173.14 479.25,173.14 479.30,173.15 479.36,173.15 479.42,173.16 479.48,173.17 479.54,173.17 479.59,173.18 479.65,173.18 479.71,173.19 479.77,173.20 479.83,173.21 479.89,173.22 479.94,173.22 480.00,173.23 480.06,173.24 480.12,173.26 480.18,173.27 480.24,173.28 480.29,173.29 480.33,173.30 480.35,173.31 480.41,173.32 480.47,173.34 480.53,173.35 480.59,173.37 480.64,173.39 480.70,173.41 480.76,173.43 480.82,173.46 480.88,173.48 480.93,173.51 480.99,173.54 481.05,173.57 481.07,173.58 481.11,173.60 481.13,173.61 481.17,173.64 481.18,173.65 481.23,173.68 481.24,173.69 481.28,173.72 481.30,173.73 481.34,173.77 481.36,173.78 481.40,173.82 481.42,173.84 481.46,173.88 481.48,173.89 481.52,173.94 481.53,173.96 481.58,174.01 481.59,174.03 481.63,174.08 481.65,174.10 481.69,174.16 481.71,174.19 481.75,174.26 481.77,174.28 481.81,174.36 481.82,174.39 481.87,174.47 481.88,174.51 481.93,174.60 481.94,174.64 481.98,174.75 482.00,174.79 482.04,174.91 482.06,174.96 482.10,175.10 482.12,175.15 482.14,175.24 482.16,175.31 482.17,175.38 482.22,175.56 482.23,175.64 482.27,175.85 482.29,175.94 482.33,176.20 482.35,176.30 482.39,176.61 482.41,176.73 482.45,177.10 482.47,177.25 482.51,177.70 482.52,177.84 482.52,177.89 482.53,177.98 482.54,178.13 482.55,178.29 482.57,178.45 482.58,178.62 482.58,178.68 482.59,178.80 482.60,178.99 482.61,179.19 482.62,179.39 482.64,179.61 482.64,179.69 482.65,179.84 482.66,180.08 482.67,180.34 482.68,180.61 482.69,180.89 482.70,180.99 482.71,181.19 482.72,181.50 482.73,181.83 482.74,182.19 482.75,182.56 482.76,182.69 482.76,182.95 482.78,183.36 482.79,183.80 482.80,184.26 482.81,184.75 482.81,184.93 482.82,185.27 482.83,185.81 482.85,186.38 482.86,186.98 482.87,187.60 482.87,187.83 482.88,188.26 482.89,188.94 482.90,189.64 482.92,190.37 482.93,191.12 482.93,191.39 482.94,191.88 482.95,192.66 482.96,193.45 482.97,194.24 482.99,195.04 482.99,195.32 483.00,195.82 483.01,196.60 483.02,197.37 483.03,198.12 483.04,198.84 483.05,199.10 483.06,199.55 483.07,200.23 483.08,200.88 483.09,201.50 483.10,202.10 483.11,202.30 483.11,202.67 483.13,203.21 483.14,203.72 483.15,204.20 483.16,204.66 483.16,204.82 483.17,205.10 483.18,205.51 483.20,205.90 483.21,206.27 483.22,206.61 483.22,206.73 483.23,206.94 483.24,207.25 483.25,207.55 483.27,207.83 483.28,208.09 483.28,208.18 483.29,208.34 483.30,208.58 483.31,208.80 483.32,209.01 483.34,209.22 483.34,209.29 483.35,209.41 483.36,209.59 483.37,209.76 483.38,209.93 483.39,210.09 483.40,210.14 483.41,210.24 483.42,210.38 483.43,210.51 483.44,210.64 483.46,210.81 483.50,211.21 483.51,211.34 483.56,211.66 483.57,211.76 483.61,212.01 483.63,212.10 483.67,212.30 483.69,212.37 483.73,212.53 483.75,212.58 483.79,212.71 483.81,212.75 483.84,212.84 483.85,212.85 483.86,212.88 483.90,212.95 483.91,212.96 483.92,212.98 483.95,213.01 483.96,213.03 483.96,213.03 483.98,213.04 484.02,213.07 484.02,213.07 484.04,213.08 484.08,213.09 484.08,213.09 484.10,213.09 484.14,213.09 484.14,213.09 484.15,213.08 484.19,213.06 484.20,213.06 484.21,213.05 484.25,213.01 484.26,213.01 484.27,212.99 484.31,212.94 484.31,212.94 484.33,212.91 484.37,212.85 484.37,212.84 484.39,212.81 484.43,212.73 484.43,212.72 484.45,212.69 484.49,212.59 484.49,212.58 484.50,212.54 484.54,212.42 484.55,212.41 484.56,212.36 484.60,212.23 484.61,212.22 484.62,212.16 484.66,212.01 484.66,211.99 484.68,211.93 484.72,211.75 484.72,211.74 484.74,211.66 484.78,211.46 484.78,211.44 484.80,211.36 484.84,211.13 484.84,211.11 484.85,211.01 484.89,210.76 484.90,210.74 484.91,210.63 484.95,210.34 484.95,210.31 484.97,210.19 485.01,209.86 485.01,209.83 485.03,209.69 485.07,209.31 485.07,209.28 485.09,209.12 485.13,208.70 485.13,208.66 485.15,208.48 485.18,208.00 485.19,207.96 485.20,207.75 485.24,207.21 485.25,207.17 485.26,206.93 485.27,206.76 485.29,206.57 485.30,206.39 485.30,206.32 485.30,206.27 485.31,206.20 485.32,206.00 485.33,205.80 485.34,205.60 485.36,205.39 485.36,205.31 485.36,205.25 485.37,205.18 485.38,204.96 485.39,204.73 485.40,204.50 485.41,204.27 485.42,204.18 485.42,204.12 485.43,204.03 485.44,203.79 485.45,203.54 485.46,203.28 485.47,203.02 485.48,202.92 485.48,202.85 485.48,202.76 485.49,202.49 485.51,202.21 485.52,201.93 485.53,201.65 485.53,201.54 485.54,201.46 485.54,201.36 485.55,201.06 485.56,200.77 485.58,200.46 485.59,200.16 485.59,200.04 485.60,199.96 485.60,199.85 485.61,199.53 485.62,199.22 485.63,198.90 485.65,198.57 485.65,198.46 485.65,198.36 485.66,198.25 485.67,197.92 485.68,197.59 485.69,197.26 485.70,196.93 485.71,196.81 485.71,196.72 485.72,196.60 485.73,196.27 485.74,195.93 485.75,195.60 485.76,195.31 485.76,195.27 485.77,195.15 485.77,195.06 485.77,194.94 485.79,194.61 485.80,194.28 485.81,193.96 485.82,193.64 485.83,193.52 485.83,193.43 485.83,193.32 485.84,193.00 485.86,192.68 485.87,192.37 485.88,192.07 485.88,191.96 485.89,191.87 485.89,191.77 485.90,191.47 485.91,191.17 485.93,190.88 485.94,190.60 485.94,190.50 485.95,190.42 485.95,190.32 485.96,190.04 485.97,189.77 485.98,189.51 486.00,189.25 486.00,189.15 486.00,189.08 486.01,188.99 486.02,188.74 486.03,188.50 486.04,188.26 486.05,188.02 486.06,187.94 486.06,187.87 486.07,187.79 486.08,187.57 486.09,187.35 486.10,187.13 486.11,186.92 486.12,186.85 486.12,186.79 486.12,186.72 486.14,186.52 486.15,186.32 486.16,186.13 486.17,185.95 486.17,185.88 486.18,185.83 486.18,185.77 486.19,185.59 486.23,185.02 486.24,184.98 486.25,184.76 486.29,184.26 486.29,184.22 486.31,184.03 486.35,183.59 486.35,183.55 486.37,183.39 486.41,183.00 486.41,182.97 486.43,182.82 486.47,182.47 486.47,182.44 486.49,182.31 486.52,182.01 486.53,181.98 486.54,181.87 486.58,181.60 486.59,181.58 486.60,181.47 486.64,181.23 486.64,181.21 486.66,181.12 486.70,180.91 486.70,180.89 486.72,180.81 486.76,180.62 486.76,180.61 486.78,180.54 486.82,180.37 486.82,180.36 486.83,180.30 486.87,180.15 486.88,180.14 486.89,180.08 486.93,179.96 486.94,179.95 486.95,179.90 486.99,179.79 486.99,179.78 487.01,179.74 487.05,179.64 487.05,179.63 487.07,179.60 487.11,179.52 487.11,179.51 487.13,179.48 487.17,179.41 487.17,179.41 487.18,179.39 487.22,179.33 487.23,179.33 487.24,179.31 487.28,179.27 487.29,179.27 487.30,179.26 487.34,179.23 487.34,179.23 487.36,179.22 487.40,179.21 487.40,179.21 487.42,179.21 487.46,179.21 487.46,179.21 487.48,179.22 487.51,179.24 487.52,179.24 487.53,179.25 487.57,179.29 487.57,179.29 487.58,179.29 487.59,179.31 487.63,179.37 487.63,179.37 487.65,179.40 487.69,179.48 487.71,179.52 487.75,179.62 487.77,179.68 487.81,179.81 487.83,179.89 487.86,180.06 487.88,180.15 487.92,180.36 487.94,180.48 487.98,180.75 488.00,180.90 488.04,181.24 488.05,181.36 488.06,181.43 488.06,181.48 488.07,181.61 488.09,181.74 488.10,181.88 488.11,182.03 488.12,182.13 488.12,182.18 488.13,182.35 488.14,182.52 488.16,182.71 488.17,182.90 488.17,183.03 488.18,183.11 488.19,183.33 488.20,183.56 488.21,183.81 488.23,184.07 488.23,184.25 488.24,184.35 488.25,184.65 488.26,184.96 488.27,185.30 488.28,185.66 488.29,185.90 488.30,186.05 488.31,186.46 488.32,186.89 488.33,187.36 488.34,187.86 488.35,188.19 488.35,188.39 488.37,188.96 488.38,189.56 488.39,190.21 488.40,190.89 488.41,191.34 488.41,191.61 488.42,192.37 488.44,193.17 488.45,194.00 488.46,194.87 488.47,195.44 488.47,195.76 488.48,196.68 488.49,197.61 488.51,198.55 488.52,199.48 488.52,200.08 488.53,200.41 488.54,201.33 488.55,202.22 488.56,203.09 488.58,203.92 488.58,204.44 488.59,204.72 488.60,205.49 488.61,206.21 488.62,206.89 488.63,207.54 488.64,207.93 488.65,208.14 488.66,208.71 488.67,209.25 488.68,209.75 488.69,210.22 488.70,210.50 488.70,210.66 488.72,211.07 488.73,211.46 488.74,211.82 488.75,212.17 488.76,212.37 488.76,212.49 488.77,212.79 488.79,213.07 488.80,213.34 488.81,213.59 488.82,213.74 488.82,213.82 488.83,214.05 488.84,214.26 488.85,214.46 488.87,214.65 488.87,214.77 488.88,214.83 488.89,215.00 488.90,215.16 488.91,215.32 488.92,215.46 488.93,215.55 488.94,215.60 488.95,215.74 488.96,215.86 488.97,215.99 488.99,216.17 489.03,216.52 489.05,216.67 489.09,216.95 489.11,217.07 489.15,217.30 489.17,217.41 489.20,217.60 489.22,217.69 489.26,217.85 489.28,217.92 489.32,218.06 489.34,218.13 489.38,218.25 489.38,218.26 489.40,218.30 489.44,218.40 489.46,218.45 489.50,218.54 489.51,218.58 489.55,218.66 489.57,218.70 489.61,218.77 489.63,218.80 489.67,218.87 489.69,218.89 489.73,218.95 489.75,218.98 489.79,219.03 489.81,219.05 489.85,219.09 489.86,219.11 489.90,219.16 489.92,219.17 489.96,219.21 489.98,219.23 490.02,219.26 490.04,219.28 490.08,219.31 490.10,219.32 490.14,219.35 490.16,219.36 490.19,219.39 490.21,219.40 490.25,219.42 490.27,219.43 490.31,219.45 490.33,219.46 490.37,219.48 490.39,219.49 490.43,219.51 490.49,219.53 490.54,219.55 490.60,219.57 490.66,219.59 490.72,219.61 490.78,219.62 490.84,219.63 490.89,219.65 490.95,219.66 491.01,219.67 491.07,219.68 491.13,219.69 491.19,219.70 491.19,219.70 491.24,219.71 491.30,219.71 491.36,219.72 491.42,219.73 491.48,219.73 491.53,219.74 491.59,219.74 491.65,219.75 491.71,219.75 491.77,219.76 491.83,219.76 491.88,219.76 491.94,219.77 492.00,219.77 492.06,219.77 492.12,219.77 492.18,219.77 492.23,219.78 492.29,219.78 492.35,219.78 492.41,219.78 492.47,219.78 492.53,219.78 492.58,219.78 492.64,219.78 492.70,219.78 492.76,219.78 492.82,219.78 492.87,219.78 492.93,219.78 492.99,219.78 493.01,219.78 493.05,219.78 493.11,219.78 493.17,219.78 494.82,219.75 496.63,219.69 498.44,219.63 500.25,219.57 502.06,219.51 503.87,219.45 505.68,219.40 507.49,219.34 509.30,219.28 511.11,219.23 512.93,219.17 514.74,219.12 516.55,219.07 518.36,219.01 520.17,218.96 521.98,218.91 523.79,218.86 525.60,218.80 527.41,218.75 529.22,218.70 531.03,218.65 532.85,218.60 534.66,218.54 536.47,218.49 538.28,218.44 540.09,218.39 541.90,218.34" fill="none" stroke="#0072BD" stroke-width="2.5" stroke-linejoin="round" clip-path="url(#cBR)"/>
<polyline points="326.40,149.97 328.21,149.98 330.02,149.99 331.83,150.00 333.64,150.01 335.45,150.02 337.27,150.03 339.08,150.05 340.89,150.06 342.70,150.08 344.51,150.09 346.32,150.11 348.13,150.13 349.94,150.15 351.75,150.17 353.56,150.20 355.37,150.22 357.19,150.25 359.00,150.28 360.81,150.31 362.62,150.35 364.43,150.38 366.24,150.42 368.05,150.46 369.86,150.51 371.67,150.56 373.48,150.61 375.29,150.67 377.11,150.73 378.92,150.79 380.73,150.86 382.54,150.94 384.35,151.02 386.16,151.10 387.97,151.20 389.78,151.30 391.59,151.40 393.40,151.52 395.22,151.64 397.03,151.77 398.84,151.91 400.65,152.06 402.46,152.22 404.27,152.40 406.08,152.58 407.89,152.78 409.70,152.99 411.51,153.21 413.32,153.45 415.14,153.71 416.95,153.98 418.76,154.27 420.57,154.58 422.38,154.90 424.19,155.25 426.00,155.61 427.81,155.99 429.62,156.39 431.43,156.81 433.24,157.25 435.06,157.70 436.87,158.17 438.68,158.65 440.49,159.15 442.30,159.66 444.11,160.18 445.92,160.70 447.73,161.23 449.54,161.76 451.35,162.28 453.16,162.81 454.98,163.32 456.79,163.83 458.60,164.32 460.41,164.80 462.22,165.27 464.03,165.72 465.84,166.15 467.65,166.56 469.46,166.95 471.27,167.33 473.08,167.68 474.90,168.02 476.71,168.35 478.31,168.65 478.37,168.66 478.43,168.68 478.49,168.69 478.52,168.69 478.55,168.70 478.60,168.71 478.66,168.72 478.72,168.74 478.78,168.75 478.84,168.76 478.90,168.77 478.95,168.79 479.01,168.80 479.07,168.81 479.13,168.83 479.19,168.84 479.25,168.86 479.30,168.87 479.36,168.88 479.42,168.90 479.48,168.91 479.54,168.93 479.59,168.95 479.65,168.96 479.71,168.98 479.77,168.99 479.83,169.01 479.89,169.03 479.94,169.05 480.00,169.07 480.06,169.09 480.12,169.11 480.18,169.13 480.24,169.15 480.29,169.17 480.33,169.18 480.35,169.19 480.41,169.22 480.47,169.24 480.53,169.27 480.59,169.29 480.64,169.32 480.70,169.35 480.76,169.38 480.82,169.41 480.88,169.45 480.93,169.48 480.99,169.52 481.05,169.56 481.07,169.57 481.11,169.60 481.13,169.62 481.17,169.65 481.18,169.66 481.23,169.70 481.24,169.71 481.28,169.75 481.30,169.76 481.34,169.81 481.36,169.82 481.40,169.87 481.42,169.88 481.46,169.93 481.48,169.95 481.52,170.00 481.53,170.02 481.58,170.08 481.59,170.10 481.63,170.16 481.65,170.18 481.69,170.25 481.71,170.28 481.75,170.35 481.77,170.38 481.81,170.46 481.82,170.50 481.87,170.59 481.88,170.62 481.93,170.72 481.94,170.76 481.98,170.88 482.00,170.92 482.04,171.05 482.06,171.10 482.10,171.25 482.12,171.30 482.14,171.39 482.16,171.47 482.17,171.54 482.22,171.73 482.23,171.80 482.27,172.03 482.29,172.12 482.33,172.38 482.35,172.48 482.39,172.80 482.41,172.92 482.45,173.30 482.47,173.45 482.51,173.91 482.52,174.05 482.52,174.10 482.53,174.19 482.54,174.34 482.55,174.50 482.57,174.67 482.58,174.84 482.58,174.90 482.59,175.02 482.60,175.21 482.61,175.41 482.62,175.62 482.64,175.84 482.64,175.92 482.65,176.07 482.66,176.31 482.67,176.57 482.68,176.84 482.69,177.12 482.70,177.23 482.71,177.42 482.72,177.74 482.73,178.07 482.74,178.43 482.75,178.80 482.76,178.94 482.76,179.19 482.78,179.61 482.79,180.05 482.80,180.51 482.81,181.00 482.81,181.18 482.82,181.52 482.83,182.06 482.85,182.63 482.86,183.23 482.87,183.86 482.87,184.09 482.88,184.52 482.89,185.20 482.90,185.90 482.92,186.63 482.93,187.39 482.93,187.66 482.94,188.15 482.95,188.93 482.96,189.72 482.97,190.52 482.99,191.31 482.99,191.59 483.00,192.10 483.01,192.88 483.02,193.65 483.03,194.40 483.04,195.13 483.05,195.38 483.06,195.83 483.07,196.51 483.08,197.17 483.09,197.79 483.10,198.39 483.11,198.60 483.11,198.96 483.13,199.50 483.14,200.01 483.15,200.50 483.16,200.96 483.16,201.12 483.17,201.40 483.18,201.81 483.20,202.20 483.21,202.57 483.22,202.92 483.22,203.04 483.23,203.25 483.24,203.57 483.25,203.86 483.27,204.14 483.28,204.41 483.28,204.50 483.29,204.66 483.30,204.90 483.31,205.12 483.32,205.34 483.34,205.54 483.34,205.61 483.35,205.73 483.36,205.92 483.37,206.09 483.38,206.26 483.39,206.42 483.40,206.47 483.41,206.57 483.42,206.71 483.43,206.85 483.44,206.98 483.46,207.15 483.50,207.55 483.51,207.69 483.56,208.01 483.57,208.12 483.61,208.38 483.63,208.46 483.67,208.67 483.69,208.74 483.73,208.91 483.75,208.96 483.79,209.10 483.81,209.14 483.84,209.24 483.85,209.25 483.86,209.28 483.90,209.35 483.91,209.36 483.92,209.38 483.95,209.42 483.96,209.44 483.96,209.44 483.98,209.46 484.02,209.49 484.02,209.49 484.04,209.50 484.08,209.52 484.08,209.52 484.10,209.52 484.14,209.52 484.14,209.52 484.15,209.52 484.19,209.50 484.20,209.50 484.21,209.49 484.25,209.46 484.26,209.46 484.27,209.44 484.31,209.40 484.31,209.39 484.33,209.37 484.37,209.31 484.37,209.31 484.39,209.28 484.43,209.20 484.43,209.20 484.45,209.16 484.49,209.07 484.49,209.06 484.50,209.02 484.54,208.91 484.55,208.90 484.56,208.85 484.60,208.73 484.61,208.71 484.62,208.66 484.66,208.51 484.66,208.50 484.68,208.43 484.72,208.26 484.72,208.25 484.74,208.17 484.78,207.98 484.78,207.96 484.80,207.88 484.84,207.66 484.84,207.64 484.85,207.54 484.89,207.29 484.90,207.27 484.91,207.16 484.95,206.88 484.95,206.85 484.97,206.73 485.01,206.41 485.01,206.38 485.03,206.24 485.07,205.87 485.07,205.84 485.09,205.68 485.13,205.26 485.13,205.23 485.15,205.05 485.18,204.58 485.19,204.53 485.20,204.33 485.24,203.79 485.25,203.75 485.26,203.52 485.27,203.34 485.29,203.16 485.30,202.98 485.30,202.91 485.30,202.86 485.31,202.79 485.32,202.59 485.33,202.40 485.34,202.19 485.36,201.99 485.36,201.91 485.36,201.85 485.37,201.77 485.38,201.56 485.39,201.33 485.40,201.11 485.41,200.87 485.42,200.79 485.42,200.72 485.43,200.63 485.44,200.39 485.45,200.14 485.46,199.89 485.47,199.63 485.48,199.54 485.48,199.46 485.48,199.37 485.49,199.10 485.51,198.83 485.52,198.55 485.53,198.26 485.53,198.16 485.54,198.08 485.54,197.98 485.55,197.68 485.56,197.39 485.58,197.09 485.59,196.78 485.59,196.67 485.60,196.58 485.60,196.47 485.61,196.16 485.62,195.85 485.63,195.53 485.65,195.21 485.65,195.09 485.65,195.00 485.66,194.88 485.67,194.56 485.68,194.23 485.69,193.90 485.70,193.57 485.71,193.45 485.71,193.36 485.72,193.24 485.73,192.91 485.74,192.58 485.75,192.25 485.76,191.96 485.76,191.92 485.77,191.80 485.77,191.71 485.77,191.59 485.79,191.26 485.80,190.94 485.81,190.61 485.82,190.29 485.83,190.17 485.83,190.08 485.83,189.97 485.84,189.66 485.86,189.34 485.87,189.04 485.88,188.73 485.88,188.62 485.89,188.54 485.89,188.43 485.90,188.13 485.91,187.84 485.93,187.55 485.94,187.27 485.94,187.17 485.95,187.09 485.95,186.99 485.96,186.72 485.97,186.45 485.98,186.18 486.00,185.93 486.00,185.83 486.00,185.76 486.01,185.67 486.02,185.42 486.03,185.18 486.04,184.94 486.05,184.71 486.06,184.62 486.06,184.56 486.07,184.48 486.08,184.26 486.09,184.04 486.10,183.83 486.11,183.62 486.12,183.54 486.12,183.49 486.12,183.41 486.14,183.22 486.15,183.02 486.16,182.83 486.17,182.65 486.17,182.58 486.18,182.53 486.18,182.47 486.19,182.29 486.23,181.73 486.24,181.68 486.25,181.47 486.29,180.98 486.29,180.94 486.31,180.75 486.35,180.31 486.35,180.28 486.37,180.11 486.41,179.73 486.41,179.70 486.43,179.55 486.47,179.21 486.47,179.18 486.49,179.05 486.52,178.75 486.53,178.73 486.54,178.62 486.58,178.35 486.59,178.33 486.60,178.23 486.64,177.99 486.64,177.97 486.66,177.88 486.70,177.68 486.70,177.66 486.72,177.58 486.76,177.40 486.76,177.38 486.78,177.31 486.82,177.15 486.82,177.14 486.83,177.08 486.87,176.94 486.88,176.93 486.89,176.87 486.93,176.75 486.94,176.74 486.95,176.69 486.99,176.59 486.99,176.58 487.01,176.54 487.05,176.45 487.05,176.44 487.07,176.41 487.11,176.33 487.11,176.33 487.13,176.30 487.17,176.24 487.17,176.23 487.18,176.21 487.22,176.16 487.23,176.16 487.24,176.14 487.28,176.11 487.29,176.11 487.30,176.10 487.34,176.08 487.34,176.08 487.36,176.07 487.40,176.06 487.40,176.06 487.42,176.06 487.46,176.07 487.46,176.07 487.48,176.08 487.51,176.11 487.52,176.11 487.53,176.12 487.57,176.16 487.57,176.16 487.58,176.17 487.59,176.19 487.63,176.25 487.63,176.25 487.65,176.28 487.69,176.36 487.71,176.41 487.75,176.52 487.77,176.58 487.81,176.71 487.83,176.79 487.86,176.96 487.88,177.06 487.92,177.28 487.94,177.40 487.98,177.67 488.00,177.82 488.04,178.17 488.05,178.29 488.06,178.36 488.06,178.41 488.07,178.54 488.09,178.67 488.10,178.81 488.11,178.96 488.12,179.06 488.12,179.12 488.13,179.29 488.14,179.46 488.16,179.65 488.17,179.85 488.17,179.98 488.18,180.06 488.19,180.28 488.20,180.51 488.21,180.76 488.23,181.02 488.23,181.20 488.24,181.30 488.25,181.60 488.26,181.92 488.27,182.26 488.28,182.62 488.29,182.86 488.30,183.00 488.31,183.41 488.32,183.85 488.33,184.32 488.34,184.82 488.35,185.16 488.35,185.36 488.37,185.93 488.38,186.53 488.39,187.18 488.40,187.86 488.41,188.32 488.41,188.58 488.42,189.35 488.44,190.15 488.45,190.98 488.46,191.85 488.47,192.41 488.47,192.74 488.48,193.66 488.49,194.59 488.51,195.53 488.52,196.47 488.52,197.06 488.53,197.40 488.54,198.32 488.55,199.21 488.56,200.08 488.58,200.92 488.58,201.43 488.59,201.72 488.60,202.48 488.61,203.20 488.62,203.89 488.63,204.54 488.64,204.93 488.65,205.14 488.66,205.72 488.67,206.25 488.68,206.75 488.69,207.23 488.70,207.51 488.70,207.67 488.72,208.08 488.73,208.47 488.74,208.83 488.75,209.18 488.76,209.38 488.76,209.50 488.77,209.80 488.79,210.08 488.80,210.35 488.81,210.60 488.82,210.76 488.82,210.84 488.83,211.07 488.84,211.28 488.85,211.48 488.87,211.67 488.87,211.79 488.88,211.86 488.89,212.03 488.90,212.19 488.91,212.35 488.92,212.50 488.93,212.59 488.94,212.64 488.95,212.77 488.96,212.90 488.97,213.02 488.99,213.21 489.03,213.56 489.05,213.71 489.09,214.00 489.11,214.12 489.15,214.36 489.17,214.47 489.20,214.66 489.22,214.75 489.26,214.92 489.28,214.99 489.32,215.14 489.34,215.20 489.38,215.33 489.38,215.34 489.40,215.38 489.44,215.49 489.46,215.54 489.50,215.64 489.51,215.68 489.55,215.77 489.57,215.80 489.61,215.88 489.63,215.91 489.67,215.98 489.69,216.01 489.73,216.07 489.75,216.10 489.79,216.15 489.81,216.18 489.85,216.23 489.86,216.25 489.90,216.30 489.92,216.32 489.96,216.36 489.98,216.38 490.02,216.41 490.04,216.43 490.08,216.47 490.10,216.48 490.14,216.52 490.16,216.53 490.19,216.56 490.21,216.57 490.25,216.60 490.27,216.61 490.31,216.64 490.33,216.65 490.37,216.67 490.39,216.68 490.43,216.70 490.49,216.73 490.54,216.76 490.60,216.79 490.66,216.81 490.72,216.83 490.78,216.86 490.84,216.88 490.89,216.90 490.95,216.91 491.01,216.93 491.07,216.95 491.13,216.96 491.19,216.98 491.19,216.98 491.24,216.99 491.30,217.01 491.36,217.02 491.42,217.03 491.48,217.04 491.53,217.05 491.59,217.07 491.65,217.08 491.71,217.09 491.77,217.10 491.83,217.11 491.88,217.11 491.94,217.12 492.00,217.13 492.06,217.14 492.12,217.15 492.18,217.16 492.23,217.16 492.29,217.17 492.35,217.18 492.41,217.18 492.47,217.19 492.53,217.20 492.58,217.20 492.64,217.21 492.70,217.22 492.76,217.22 492.82,217.23 492.87,217.24 492.93,217.24 492.99,217.25 493.01,217.25 493.05,217.25 493.11,217.26 493.17,217.26 494.82,217.38 496.63,217.49 498.44,217.58 500.25,217.66 502.06,217.73 503.87,217.79 505.68,217.85 507.49,217.90 509.30,217.94 511.11,217.98 512.93,218.01 514.74,218.04 516.55,218.06 518.36,218.07 520.17,218.09 521.98,218.09 523.79,218.10 525.60,218.10 527.41,218.09 529.22,218.09 531.03,218.08 532.85,218.07 534.66,218.05 536.47,218.03 538.28,218.01 540.09,217.99 541.90,217.97" fill="none" stroke="#A2142F" stroke-width="2.7" stroke-linejoin="round" stroke-dasharray="6.9 7.2" clip-path="url(#cBR)"/>
<text x="321.4" y="155.35" text-anchor="end" font-size="14.3" textLength="13.80" lengthAdjust="spacingAndGlyphs">90</text>
<text x="321.4" y="166.70" text-anchor="end" font-size="14.3" textLength="13.80" lengthAdjust="spacingAndGlyphs">45</text>
<text x="321.4" y="178.35" text-anchor="end" font-size="14.3" textLength="6.90" lengthAdjust="spacingAndGlyphs">0</text>
<text x="321.4" y="190.00" text-anchor="end" font-size="14.3" textLength="18.39" lengthAdjust="spacingAndGlyphs">-45</text>
<text x="321.4" y="201.35" text-anchor="end" font-size="14.3" textLength="18.39" lengthAdjust="spacingAndGlyphs">-90</text>
<text x="321.4" y="213.30" text-anchor="end" font-size="14.3" textLength="25.29" lengthAdjust="spacingAndGlyphs">-135</text>
<text x="321.4" y="224.45" text-anchor="end" font-size="14.3" textLength="25.29" lengthAdjust="spacingAndGlyphs">-180</text>
<text x="316.50" y="248.40" font-size="14.3">10<tspan dx="-0.5" dy="-7.4" font-size="11.8">0</tspan></text>
<text x="374.76" y="248.40" font-size="14.3">10<tspan dx="-0.5" dy="-7.4" font-size="11.8">1</tspan></text>
<text x="433.02" y="248.40" font-size="14.3">10<tspan dx="-0.5" dy="-7.4" font-size="11.8">2</tspan></text>
<text x="491.28" y="248.40" font-size="14.3">10<tspan dx="-0.5" dy="-7.4" font-size="11.8">3</tspan></text>
<rect x="55.3" y="17.6" width="66.4" height="47.6" fill="#fff"/>
<line x1="61.5" x2="88" y1="29.6" y2="29.6" stroke="#0072BD" stroke-width="2.5"/>
<line x1="61.8" x2="88" y1="52.8" y2="52.8" stroke="#A2142F" stroke-width="2.7" stroke-dasharray="6.5 7.2"/>
<text x="90" y="31.6" font-size="14.8">X<tspan dy="7.2" font-size="11.5">C-2</tspan></text>
<text x="90.5" y="54.8" font-size="14.4">X<tspan dy="7.5" font-size="10.8">C-1</tspan></text>
<rect x="358.5" y="176" width="92" height="46.5" fill="#fff"/>
<line x1="362" x2="387.5" y1="185.3" y2="185.3" stroke="#0072BD" stroke-width="2.5"/>
<line x1="362.1" x2="387.5" y1="211.3" y2="211.3" stroke="#A2142F" stroke-width="2.7" stroke-dasharray="6.3 7"/>
<text x="391.3" y="188.4" font-size="14.6">G<tspan dy="6.3" font-size="10.9">io-d</tspan></text>
<text x="391.3" y="215.2" font-size="14.6">G</text>
<text x="402.6" y="208.7" font-size="11" textLength="44.8" lengthAdjust="spacingAndGlyphs">VinFF-LP</text>
<text x="402.2" y="221.4" font-size="10.9">io-d</text>
<text transform="translate(20.5 97.5) rotate(-90)" font-size="14.3" textLength="89.2" lengthAdjust="spacingAndGlyphs">Magnitude (dB)</text>
<text transform="translate(295.8 97.5) rotate(-90)" font-size="14.3" textLength="89.2" lengthAdjust="spacingAndGlyphs">Magnitude (dB)</text>
<text transform="translate(20.5 217.4) rotate(-90)" font-size="14.3" textLength="64.8" lengthAdjust="spacingAndGlyphs">Phase (deg)</text>
<text transform="translate(288.6 217.4) rotate(-90)" font-size="14.3" textLength="64.8" lengthAdjust="spacingAndGlyphs">Phase (deg)</text>
<text x="162.5" y="265.7" text-anchor="middle" font-size="14.2" textLength="87.8" lengthAdjust="spacingAndGlyphs">Frequency (Hz)</text>
<text x="434.1" y="265.7" text-anchor="middle" font-size="14.2" textLength="87.8" lengthAdjust="spacingAndGlyphs">Frequency (Hz)</text>
<text x="142.2" y="289.6" text-anchor="middle" font-size="12.5">(<tspan font-weight="bold">a</tspan>)</text>
<text x="411.3" y="289.6" text-anchor="middle" font-size="12.5">(<tspan font-weight="bold">b</tspan>)</text>
</svg>
</body></html>
